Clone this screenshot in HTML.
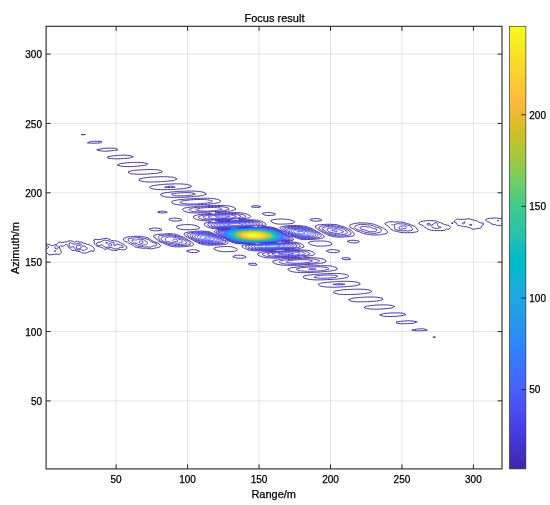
<!DOCTYPE html>
<html><head><meta charset="utf-8"><title>Focus result</title>
<style>html,body{margin:0;padding:0;background:#fff}svg{display:block}</style></head>
<body>
<svg width="550" height="505" viewBox="0 0 550 505">
<rect width="550" height="505" fill="#fff"/>
<path d="M116.13 26.30V468.90M46.10 400.91H502.00M187.59 26.30V468.90M46.10 331.54H502.00M259.04 26.30V468.90M46.10 262.17H502.00M330.50 26.30V468.90M46.10 192.80H502.00M401.96 26.30V468.90M46.10 123.42H502.00M473.42 26.30V468.90M46.10 54.05H502.00" stroke="#262626" stroke-opacity="0.115" stroke-width="1" fill="none"/>
<g fill="none" stroke-width="0.95" stroke-linejoin="round" clip-path="url(#cp)">
<clipPath id="cp"><rect x="46.10" y="26.30" width="455.90" height="442.60"/></clipPath>
<path stroke="#3e26a8" d="M432.8 337.1L433.4 337.2L434.8 337.2L435.5 337.1L434.8 337.1L433.4 337.1ZM411.8 330.2L412.0 330.2L413.4 330.5L414.8 330.6L416.3 330.8L417.7 330.8L419.1 330.8L420.5 330.8L422.0 330.7L423.4 330.6L424.8 330.5L426.3 330.3L427.3 330.2L426.3 329.6L424.8 329.1L423.4 328.8L422.7 328.8L422.0 328.8L420.5 328.8L420.3 328.8L419.1 328.9L417.7 329.0L416.3 329.2L414.8 329.5L413.4 329.8L412.0 330.1ZM396.6 323.2L397.7 323.4L399.1 323.5L400.5 323.6L402.0 323.7L403.4 323.7L404.8 323.7L406.2 323.7L407.7 323.6L409.1 323.6L410.5 323.5L412.0 323.4L413.4 323.2L413.6 323.2L414.8 322.8L416.3 322.2L417.2 321.8L416.3 321.6L414.8 321.3L413.4 321.1L412.0 321.0L410.5 320.9L409.1 320.8L407.7 320.8L406.2 320.9L404.8 321.0L403.4 321.1L402.0 321.2L400.5 321.3L399.1 321.5L397.7 321.7L396.5 321.8ZM383.9 316.3L384.8 316.3L386.2 316.4L387.7 316.5L389.1 316.5L390.5 316.5L392.0 316.5L393.4 316.4L394.8 316.4L396.2 316.3L396.8 316.3L397.7 316.2L399.1 316.0L400.5 315.8L402.0 315.6L403.4 315.3L404.8 315.0L405.6 314.9L404.8 313.6L404.8 313.5L403.4 313.3L402.0 313.1L400.5 313.0L399.1 312.9L397.7 312.9L396.2 312.9L394.8 312.9L393.4 312.9L392.0 312.9L390.5 313.0L389.1 313.1L387.7 313.2L386.2 313.3L384.8 313.4L383.8 313.5L383.4 313.6L382.0 314.1L380.5 314.5L379.5 314.9L380.5 315.3L382.0 315.8L383.4 316.2ZM364.5 308.0L364.8 308.0L366.2 308.4L367.7 308.6L369.1 308.8L370.5 309.0L371.9 309.1L373.4 309.1L374.8 309.2L376.2 309.2L377.7 309.2L379.1 309.1L380.5 309.0L382.0 309.0L383.4 308.9L384.8 308.8L386.2 308.6L387.7 308.5L389.1 308.3L390.5 308.2L392.0 308.0L392.1 308.0L393.4 307.3L394.8 306.6L393.4 306.0L392.0 305.6L390.5 305.2L390.3 305.2L389.1 305.1L387.7 305.0L386.2 304.9L384.8 304.9L383.4 304.9L382.0 304.9L380.5 304.9L379.1 305.0L377.7 305.0L376.2 305.1L374.8 305.2L374.4 305.2L373.4 305.3L371.9 305.5L370.5 305.6L369.1 305.9L367.7 306.1L366.2 306.3L364.9 306.6L364.8 306.9ZM350.7 301.0L351.9 301.2L353.4 301.4L354.8 301.6L356.2 301.7L357.7 301.8L359.1 301.8L360.5 301.8L361.9 301.8L363.4 301.8L364.8 301.8L366.2 301.7L367.7 301.7L369.1 301.6L370.5 301.5L371.9 301.4L373.4 301.3L374.8 301.2L376.2 301.1L376.8 301.0L377.7 300.8L379.1 300.6L380.5 300.2L382.0 299.9L382.9 299.6L382.4 298.2L382.0 298.1L380.5 297.8L379.1 297.5L377.7 297.4L376.2 297.2L374.8 297.1L373.4 297.0L371.9 297.0L370.5 297.0L369.1 297.0L367.7 297.0L366.2 297.1L364.8 297.2L363.4 297.2L361.9 297.3L360.5 297.4L359.1 297.5L357.7 297.7L356.2 297.8L354.8 298.0L353.4 298.1L352.3 298.2L351.9 298.4L350.5 298.9L349.1 299.4L348.5 299.6L349.1 300.0L350.5 300.9ZM338.3 294.1L339.1 294.2L340.5 294.3L341.9 294.4L343.4 294.5L344.8 294.5L346.2 294.5L347.7 294.5L349.1 294.5L350.5 294.5L351.9 294.4L353.4 294.4L354.8 294.3L356.2 294.3L357.7 294.2L359.1 294.1L359.2 294.1L360.5 294.0L361.9 293.8L363.4 293.6L364.8 293.5L366.2 293.3L367.7 293.0L369.1 292.8L369.8 292.7L370.5 292.2L371.8 291.3L370.5 290.6L369.1 290.0L368.9 289.9L367.7 289.7L366.2 289.5L364.8 289.4L363.4 289.3L361.9 289.2L360.5 289.2L359.1 289.2L357.7 289.2L356.2 289.2L354.8 289.2L353.4 289.3L351.9 289.3L350.5 289.4L349.1 289.5L347.7 289.5L346.2 289.6L344.8 289.7L343.4 289.8L342.2 289.9L341.9 290.0L340.5 290.2L339.1 290.4L337.6 290.6L336.2 290.9L334.8 291.2L334.3 291.3L333.5 292.7L334.8 293.2L336.2 293.6L337.6 294.0ZM328.6 287.1L329.1 287.2L330.5 287.2L331.9 287.2L333.4 287.2L334.8 287.2L336.2 287.2L337.6 287.1L337.6 287.1L339.1 287.1L340.5 287.0L341.9 286.9L343.4 286.8L344.8 286.8L346.2 286.6L347.7 286.5L349.1 286.4L350.5 286.3L351.9 286.1L353.4 286.0L354.8 285.8L355.4 285.8L356.2 285.5L357.7 285.2L359.1 284.7L360.1 284.4L359.5 283.0L359.1 282.8L357.7 282.4L356.2 282.0L354.8 281.8L353.6 281.6L353.4 281.6L351.9 281.5L350.5 281.4L349.1 281.3L347.7 281.3L346.2 281.3L344.8 281.3L343.4 281.3L341.9 281.4L340.5 281.4L339.1 281.4L337.6 281.5L336.2 281.6L335.8 281.6L334.8 281.7L333.4 281.8L331.9 281.9L330.5 282.0L329.1 282.1L327.6 282.3L326.2 282.4L324.8 282.6L323.4 282.8L321.9 282.9L321.7 283.0L320.5 283.4L319.1 283.9L318.1 284.4L319.1 285.4L319.5 285.8L320.5 286.0L321.9 286.4L323.4 286.6L324.8 286.8L326.2 287.0L327.6 287.1ZM306.1 278.8L306.2 278.8L307.6 279.1L309.1 279.4L310.5 279.5L311.9 279.7L313.4 279.8L314.8 279.8L316.2 279.9L317.6 279.9L319.1 279.9L320.5 279.9L321.9 279.8L323.4 279.8L324.8 279.7L326.2 279.7L327.6 279.6L329.1 279.5L330.5 279.5L331.9 279.4L333.4 279.3L334.8 279.2L336.2 279.1L337.6 279.0L339.1 278.8L339.4 278.8L340.5 278.7L341.9 278.5L343.4 278.2L344.8 278.0L346.2 277.7L347.5 277.4L347.7 277.3L348.8 276.0L347.7 275.3L346.4 274.7L346.2 274.6L344.8 274.3L343.4 274.0L341.9 273.8L340.5 273.7L339.1 273.6L337.6 273.5L336.2 273.5L334.8 273.5L333.4 273.5L331.9 273.5L330.5 273.5L329.1 273.6L327.6 273.6L326.2 273.7L324.8 273.7L323.4 273.8L321.9 273.9L320.5 274.0L319.1 274.1L317.6 274.2L316.2 274.3L314.8 274.4L313.4 274.5L311.9 274.6L311.5 274.7L310.5 274.8L309.1 275.0L307.6 275.3L306.2 275.5L304.8 275.8L303.9 276.0L303.3 277.0L303.1 277.4L303.3 277.6L304.8 278.3ZM293.3 271.9L293.3 271.9L294.8 272.1L296.2 272.3L297.6 272.4L299.1 272.5L300.5 272.6L301.9 272.6L303.3 272.6L304.8 272.6L306.2 272.6L307.6 272.5L309.1 272.5L310.5 272.5L311.9 272.4L313.4 272.3L314.8 272.3L316.2 272.2L317.6 272.2L319.1 272.1L320.5 272.0L321.3 271.9L321.9 271.8L323.4 271.7L324.8 271.6L326.2 271.4L327.6 271.3L329.1 271.1L330.5 271.0L331.9 270.8L333.4 270.6L334.0 270.5L334.8 270.2L336.2 269.7L337.4 269.1L336.6 267.7L336.2 267.5L334.8 267.0L333.4 266.6L332.5 266.3L331.9 266.2L330.5 266.0L329.1 265.9L327.6 265.8L326.2 265.7L324.8 265.7L323.4 265.6L321.9 265.6L320.5 265.7L319.1 265.7L317.6 265.7L316.2 265.8L314.8 265.8L313.4 265.8L311.9 265.8L310.5 265.8L309.1 265.9L307.6 265.9L306.2 266.0L304.8 266.3L304.6 266.3L303.3 266.4L301.9 266.6L300.5 266.7L299.1 266.8L297.6 267.0L296.2 267.1L294.8 267.3L293.3 267.5L291.9 267.6L291.3 267.7L290.5 268.0L289.1 268.5L287.8 269.1L288.8 270.5L289.1 270.6L290.5 271.1L291.9 271.6ZM249.2 264.9L250.5 265.1L251.9 265.2L253.3 265.3L254.8 265.2L256.2 265.1L257.1 264.9L256.2 263.7L256.0 263.6L254.8 263.4L253.3 263.3L251.9 263.3L250.5 263.4L249.0 263.5L248.7 263.6L249.0 264.6ZM281.1 264.9L281.9 265.0L283.3 265.2L284.8 265.2L286.2 265.3L287.6 265.3L289.1 265.3L290.5 265.3L291.9 265.3L293.3 265.3L294.8 265.3L296.2 265.3L297.6 265.3L299.1 265.2L300.5 265.1L301.1 264.9L301.9 264.9L303.3 264.8L304.8 264.7L306.2 264.6L307.6 264.5L309.1 264.4L310.5 264.3L311.9 264.2L313.4 264.1L314.8 264.0L316.2 263.9L317.6 263.8L319.1 263.6L319.3 263.6L320.5 263.3L321.9 263.1L323.4 262.8L324.8 262.4L325.5 262.2L326.0 260.8L324.8 260.0L323.9 259.4L323.4 259.2L321.9 258.8L320.5 258.5L319.1 258.2L317.6 258.0L317.2 258.0L316.2 257.9L314.8 257.8L313.4 257.8L311.9 257.7L310.5 257.7L309.1 257.6L307.6 257.6L306.2 257.5L304.8 257.5L303.3 257.3L302.8 256.6L303.3 256.6L304.8 256.4L306.2 256.3L307.6 256.1L309.1 255.9L310.5 255.7L311.9 255.5L313.1 255.2L313.4 255.1L314.8 254.1L315.1 253.8L314.8 253.5L313.9 252.5L313.4 252.2L311.9 251.5L310.8 251.1L310.5 251.0L309.1 250.6L307.6 250.4L306.2 250.2L304.8 250.1L303.3 250.0L301.9 250.0L300.5 249.9L299.1 249.9L297.6 250.0L296.2 250.0L294.8 250.0L293.3 250.1L291.9 250.2L290.5 250.2L289.1 250.1L287.6 250.0L286.2 249.9L284.8 249.8L284.3 249.7L284.8 249.7L286.2 249.5L287.6 249.4L289.1 249.3L290.5 249.2L291.9 249.2L293.3 249.2L294.8 249.1L296.2 249.1L297.6 249.0L299.1 248.7L299.9 248.3L300.5 248.2L301.9 247.8L303.3 247.2L304.1 246.9L303.5 245.5L303.3 245.4L301.9 244.4L301.5 244.1L300.5 243.6L299.1 243.1L297.9 242.7L297.6 242.7L296.2 242.4L294.8 242.2L293.3 242.1L291.9 242.0L290.5 241.9L289.1 241.8L287.6 241.7L286.2 241.5L285.3 241.4L286.2 241.3L287.6 241.1L289.1 240.9L290.5 240.7L291.9 240.4L293.3 240.0L293.4 240.0L293.4 238.6L293.3 238.5L291.9 237.4L291.7 237.2L291.9 236.4L293.3 236.6L294.7 237.2L294.8 237.3L296.2 237.9L297.6 238.4L298.3 238.6L299.1 238.9L300.5 239.2L301.9 239.4L303.3 239.5L304.8 239.6L306.2 239.6L307.6 239.5L309.1 239.5L310.5 239.5L311.9 239.4L313.4 239.3L314.8 239.2L316.2 239.1L317.6 239.0L319.1 238.8L320.4 238.6L320.5 238.6L321.9 238.2L323.4 237.7L324.2 237.2L324.0 235.8L323.4 235.4L322.2 234.4L321.9 234.3L320.5 233.4L320.1 233.0L319.1 232.5L317.6 231.7L317.6 231.6L316.2 231.0L314.9 230.3L314.8 230.2L313.4 229.3L312.3 228.9L311.9 228.7L310.5 228.0L309.1 227.5L309.0 227.5L307.6 226.9L306.2 226.5L304.8 226.3L303.6 226.1L303.3 226.1L301.9 225.9L300.5 225.8L299.1 225.7L297.6 225.6L296.2 225.6L294.8 225.6L293.3 225.6L291.9 225.6L290.5 225.6L289.1 225.7L287.6 225.8L286.2 226.0L285.7 226.1L284.8 226.2L283.3 226.4L281.9 226.7L280.5 227.1L279.8 227.5L280.5 228.6L280.6 228.9L281.9 229.8L282.4 230.3L281.9 230.8L280.5 230.5L279.9 230.3L279.1 229.6L277.6 229.1L276.9 228.9L276.2 228.5L274.8 227.9L273.3 227.6L272.4 227.5L271.9 227.3L270.5 227.0L269.0 226.9L267.6 226.7L266.2 226.6L264.8 226.5L263.3 226.4L261.9 226.2L261.3 226.1L261.9 226.0L263.3 225.7L264.8 225.3L266.2 224.8L266.4 224.7L266.2 224.5L265.4 223.3L264.8 222.9L263.3 222.2L262.8 221.9L261.9 221.5L260.5 221.0L259.0 220.7L258.4 220.5L257.6 220.3L256.2 220.1L254.8 220.0L253.3 219.9L251.9 219.8L250.5 219.8L249.0 219.8L247.6 219.8L246.2 219.7L244.8 219.7L243.3 219.6L241.9 219.5L240.5 219.4L239.0 219.2L238.8 219.2L239.0 219.1L240.5 219.0L241.9 218.8L243.3 218.7L244.8 218.5L246.2 218.3L247.6 218.1L249.0 217.9L249.5 217.8L250.5 216.8L250.8 216.4L250.5 216.1L249.1 215.0L249.0 215.0L247.6 214.4L246.2 213.9L245.1 213.6L244.8 213.5L243.3 213.2L241.9 213.0L240.5 212.8L239.0 212.7L237.6 212.7L236.2 212.6L234.7 212.6L233.3 212.6L231.9 212.6L230.5 212.7L229.0 212.7L227.6 212.8L226.2 212.8L224.7 212.8L223.3 212.8L221.9 212.8L220.5 212.7L219.0 212.7L217.6 212.6L216.2 212.5L215.1 212.2L216.2 212.1L217.6 212.0L219.0 211.9L220.5 211.8L221.9 211.7L223.3 211.6L224.7 211.5L226.2 211.4L227.6 211.3L229.0 211.2L230.5 211.0L231.1 210.8L231.9 210.6L233.3 210.2L234.7 209.8L235.7 209.4L235.1 208.1L234.7 207.9L233.3 207.2L231.9 206.7L231.9 206.7L230.5 206.3L229.0 206.0L227.6 205.8L226.2 205.7L224.7 205.6L223.3 205.5L221.9 205.5L220.5 205.5L219.0 205.5L217.6 205.5L216.2 205.5L214.7 205.5L213.3 205.6L211.9 205.6L210.5 205.7L209.0 205.7L207.6 205.8L206.2 205.9L204.7 206.0L203.3 206.0L201.9 206.1L200.4 206.1L199.0 206.1L197.6 206.2L196.2 206.3L194.7 206.6L194.4 206.7L193.3 206.8L191.9 207.0L190.4 207.1L189.0 207.3L187.6 207.5L186.2 207.7L184.7 208.0L184.4 208.1L183.3 208.7L182.3 209.4L183.3 210.6L183.5 210.8L184.7 211.4L186.2 211.9L187.5 212.2L187.6 212.2L189.0 212.5L190.4 212.7L191.9 212.8L193.3 212.9L194.7 212.9L196.2 212.9L197.6 212.9L199.0 212.9L200.4 212.9L201.9 212.8L203.3 212.9L204.7 212.9L206.2 213.0L207.6 213.0L209.0 213.1L210.5 213.3L211.6 213.6L210.5 213.7L209.0 213.8L207.6 213.9L206.2 214.0L204.7 214.2L203.3 214.3L201.9 214.5L200.4 214.5L199.0 214.7L197.6 214.9L197.4 215.0L196.2 215.3L194.7 215.8L193.3 216.4L193.7 217.8L194.7 218.4L196.1 219.2L196.2 219.2L197.6 219.7L199.0 220.0L200.4 220.3L201.9 220.5L202.5 220.5L203.3 220.6L204.7 220.8L206.2 220.9L207.6 221.0L209.0 221.1L210.5 221.4L211.5 221.9L210.5 222.1L209.0 222.3L207.6 222.6L206.2 222.9L204.7 223.3L204.5 223.3L204.1 224.7L204.7 225.2L205.8 226.1L206.2 226.3L207.6 227.0L208.7 227.5L209.0 227.6L210.5 228.0L211.9 228.3L213.3 228.5L214.7 228.6L216.2 228.6L217.6 228.6L219.0 228.6L220.5 228.6L221.9 228.5L223.3 228.5L224.7 228.6L226.2 228.7L227.6 228.9L226.2 229.0L224.7 229.1L223.3 229.2L221.9 229.3L220.5 229.3L219.0 229.3L217.6 229.5L216.2 229.9L215.6 230.3L214.7 230.9L214.3 231.6L214.7 232.0L215.6 233.0L216.2 233.5L217.6 234.4L217.6 234.4L217.6 234.6L216.2 234.8L215.3 234.4L214.7 233.8L213.3 233.4L212.3 233.0L211.9 232.8L210.5 232.2L209.0 231.8L207.8 231.6L207.6 231.6L206.2 231.3L204.7 231.2L203.3 231.1L201.9 231.1L200.4 231.1L199.0 231.2L197.6 231.2L196.2 231.2L194.7 231.3L193.3 231.5L192.6 231.6L191.9 231.7L190.4 231.8L189.0 232.0L187.6 232.2L186.2 232.6L184.8 233.0L184.7 233.1L184.1 234.4L184.7 235.2L185.1 235.8L186.2 236.5L187.1 237.2L187.6 237.5L189.0 238.1L189.9 238.6L190.4 238.9L191.9 239.6L192.6 240.0L193.3 240.4L194.7 241.2L195.0 241.4L196.2 242.0L197.6 242.7L197.8 242.7L199.0 243.4L200.4 243.9L201.5 244.1L201.9 244.3L203.3 244.6L204.7 244.8L206.2 244.9L207.6 245.1L209.0 245.1L210.5 245.2L211.9 245.1L213.3 245.1L214.7 245.1L216.2 245.1L217.6 245.0L219.0 244.9L220.5 244.8L221.9 244.7L223.3 244.6L224.7 244.4L226.1 244.1L226.2 244.1L227.6 243.5L228.2 242.7L227.6 242.2L227.0 241.4L226.2 240.9L225.0 240.0L226.2 239.5L227.2 240.0L227.6 240.6L229.0 241.0L230.1 241.4L230.5 241.7L231.9 242.2L233.3 242.6L233.8 242.7L234.7 243.1L236.2 243.4L237.6 243.6L239.0 243.7L240.5 243.8L241.9 243.8L243.3 243.8L244.8 243.8L246.2 243.8L247.6 243.9L249.0 244.0L250.5 244.1L250.8 244.1L250.5 244.2L249.0 244.4L247.6 244.6L246.2 244.8L244.8 245.0L243.3 245.2L242.0 245.5L242.1 246.9L243.3 247.7L244.3 248.3L244.8 248.5L246.2 249.2L247.6 249.6L247.8 249.7L249.0 250.1L250.5 250.4L251.9 250.6L253.3 250.7L254.8 250.8L256.2 250.8L257.6 250.9L259.0 250.9L260.5 250.8L261.9 250.8L263.3 250.8L264.8 250.7L266.2 250.7L267.6 250.6L269.0 250.7L270.5 250.7L271.9 250.8L273.3 250.9L274.8 251.0L274.9 251.1L274.8 251.1L273.3 251.2L271.9 251.3L270.5 251.5L269.0 251.6L267.6 251.7L266.2 251.7L264.8 251.8L263.3 251.9L261.9 252.0L260.6 252.5L260.5 252.5L259.0 253.0L257.6 253.6L257.2 253.8L257.6 254.3L258.3 255.2L259.0 255.6L260.5 256.3L261.4 256.6L261.9 256.8L263.3 257.2L264.8 257.5L266.2 257.7L267.6 257.8L269.0 257.9L270.5 258.0L271.0 258.0L271.9 258.0L273.3 258.1L274.8 258.1L276.2 258.1L277.6 258.0L277.7 258.0L279.1 258.0L280.5 257.9L281.9 257.9L283.3 257.8L284.8 257.8L286.2 257.7L287.6 257.6L289.1 257.5L290.5 257.5L291.9 257.4L293.3 257.5L294.8 257.5L296.2 257.5L297.6 257.5L299.1 257.6L300.5 257.6L301.9 257.9L302.1 258.0L301.9 258.0L300.5 258.1L299.1 258.2L297.6 258.2L296.2 258.3L294.8 258.4L293.3 258.5L291.9 258.6L290.5 258.7L289.1 258.7L287.6 258.7L286.2 258.7L284.8 258.7L283.3 258.8L281.9 259.0L281.2 259.4L280.5 259.5L279.1 259.7L277.6 259.9L276.2 260.2L274.8 260.5L273.4 260.8L273.3 261.0L272.7 262.2L273.3 262.6L274.8 263.4L275.0 263.6L276.2 264.0L277.6 264.3L279.1 264.6L280.5 264.9ZM342.9 259.4L343.4 259.5L344.8 259.6L346.2 259.7L347.7 259.7L349.1 259.6L350.5 259.4L350.6 259.4L350.5 259.2L349.6 258.0L349.1 257.9L347.7 257.8L346.2 257.7L344.8 257.8L343.4 257.8L341.9 258.0L341.9 258.0L341.9 258.0ZM236.5 258.0L237.6 258.1L239.0 258.2L240.5 258.3L241.9 258.2L243.3 258.1L244.7 258.0L244.8 258.0L246.0 256.6L244.8 256.1L243.3 255.7L241.9 255.4L240.8 255.2L240.5 255.2L239.0 255.2L237.6 255.2L237.3 255.2L236.2 255.4L234.7 255.8L233.3 256.3L232.7 256.6L233.3 256.9L234.7 257.5L236.2 257.9ZM46.1 252.7L47.5 253.4L47.7 253.8L49.0 254.9L50.4 254.8L51.8 254.6L53.2 254.4L54.7 254.2L56.1 254.1L57.5 254.4L59.0 254.4L59.9 253.8L60.4 253.5L61.2 252.5L61.1 251.1L60.4 249.7L60.4 249.7L59.8 248.3L59.3 246.9L60.4 245.8L61.8 246.1L63.2 246.2L64.5 245.5L64.7 245.3L66.1 244.2L67.5 245.0L67.8 245.5L68.1 246.9L69.0 247.7L70.1 248.3L70.4 248.6L71.3 249.7L71.8 250.1L73.3 250.5L74.7 250.5L76.1 250.9L76.9 251.1L77.5 251.4L79.0 251.3L80.4 251.7L81.3 252.5L81.8 252.7L83.3 253.0L84.7 253.1L86.1 253.0L87.5 252.5L87.5 252.5L89.0 251.6L90.4 251.1L90.4 251.0L91.8 250.8L92.5 251.1L93.3 251.3L94.2 251.1L94.2 249.7L94.2 248.3L93.3 247.3L92.9 246.9L91.8 246.2L90.6 245.5L90.4 245.4L89.0 244.7L87.5 244.4L86.9 244.1L86.1 243.8L84.7 243.7L83.3 243.2L83.0 242.7L81.8 242.2L80.4 242.1L79.0 242.0L77.6 241.4L77.5 241.3L76.1 241.3L75.9 241.4L74.7 242.3L73.3 241.8L72.7 241.4L71.8 241.0L70.4 240.8L69.0 241.0L67.5 241.3L67.4 241.4L66.1 241.9L64.7 242.0L63.2 242.3L61.8 242.4L60.4 242.2L59.0 242.1L58.0 242.7L57.5 243.5L57.1 244.1L56.1 244.4L54.7 244.8L53.2 245.5L52.8 245.5L51.8 245.6L51.7 245.5L50.4 245.1L49.0 244.5L47.5 244.1L47.5 244.1L46.1 244.0M191.4 252.5L191.9 252.5L193.3 252.5L194.7 252.5L196.2 252.5L196.2 252.5L197.6 252.1L199.0 251.3L199.4 251.1L199.0 250.9L197.6 250.4L196.2 249.9L194.7 249.7L193.5 249.7L193.3 249.7L191.9 249.7L191.8 249.7L190.4 249.8L189.0 250.1L187.6 250.5L186.5 251.1L187.6 251.5L189.0 252.0L190.4 252.3ZM330.2 252.5L330.5 252.5L331.9 252.6L333.4 252.7L334.8 252.7L336.2 252.6L337.6 252.5L338.0 252.5L339.1 251.8L339.8 251.1L339.1 250.8L337.6 250.3L336.2 250.0L334.8 249.8L334.0 249.7L333.4 249.7L331.9 249.6L330.5 249.7L330.5 249.7L329.1 249.9L327.6 250.3L326.3 251.1L327.6 251.6L329.1 252.1ZM218.9 251.1L219.0 251.1L220.5 251.3L221.9 251.5L223.3 251.6L224.7 251.7L226.2 251.7L227.6 251.7L229.0 251.7L230.5 251.6L231.9 251.5L233.3 251.4L234.7 251.2L235.4 251.1L236.2 250.7L237.5 249.7L236.2 248.5L236.0 248.3L234.7 247.8L233.3 247.3L232.0 246.9L231.9 246.9L230.5 246.7L229.0 246.6L227.6 246.5L226.2 246.5L224.7 246.6L223.3 246.6L221.9 246.7L220.5 246.8L219.0 246.9L218.9 246.9L217.6 247.1L216.2 247.5L214.7 247.9L213.8 248.3L214.7 249.7L214.8 249.7L216.2 250.2L217.6 250.7ZM110.7 249.7L111.8 250.2L113.3 250.3L114.7 250.4L116.1 250.4L117.6 250.0L118.3 249.7L119.0 249.5L120.4 249.4L121.4 249.7L121.8 249.8L123.3 249.8L124.1 249.7L124.7 249.6L126.1 249.0L126.8 248.3L126.8 246.9L126.1 246.8L125.1 245.5L124.7 245.2L123.4 244.1L123.3 244.1L121.8 243.5L120.6 242.7L120.4 242.6L119.0 242.1L117.9 241.4L117.6 241.3L116.1 241.0L114.7 240.8L113.3 240.7L111.8 240.5L110.4 240.0L110.4 239.9L109.0 239.1L107.7 238.6L107.6 238.5L106.1 238.3L104.7 238.4L104.0 238.6L103.3 238.7L101.8 239.1L100.4 239.4L99.0 239.6L97.5 239.6L96.1 239.3L94.7 239.5L93.7 240.0L94.5 241.4L94.1 242.7L94.6 244.1L94.7 244.3L95.9 245.5L96.1 245.6L97.5 246.3L99.0 246.7L99.7 246.9L100.4 247.2L101.8 247.6L103.3 248.2L103.5 248.3L104.7 249.3L106.1 249.0L107.6 248.6L109.0 248.8L110.4 249.5ZM142.9 248.3L143.3 248.4L144.7 248.3L145.6 248.3L146.1 248.3L146.4 248.3L147.6 248.4L149.0 248.7L150.4 248.9L151.9 248.8L153.3 248.5L154.1 248.3L154.7 248.1L156.1 247.9L157.6 247.5L159.0 247.1L159.7 246.9L160.4 246.3L160.7 245.5L160.4 245.3L159.3 244.1L159.0 243.9L157.6 243.0L157.1 242.7L156.1 242.3L154.7 241.8L153.5 241.4L153.3 241.3L151.9 240.6L151.0 240.0L150.4 239.5L149.2 238.6L149.0 238.4L147.6 237.7L146.1 237.3L145.6 237.2L144.7 237.0L143.3 236.9L141.9 236.6L140.4 236.4L139.0 236.3L137.6 236.3L136.1 236.2L134.7 236.3L133.3 236.5L131.8 236.7L130.4 236.7L129.0 236.7L127.6 237.0L127.0 237.2L126.1 237.5L124.7 238.1L123.6 238.6L123.3 240.0L124.7 241.2L124.9 241.4L126.1 241.9L127.6 242.2L128.3 242.7L129.0 243.3L130.2 244.1L130.4 244.2L131.8 244.7L133.3 245.5L133.3 245.5L134.7 246.9L134.8 246.9L136.1 247.1L137.6 247.4L139.0 247.8L140.4 247.9L141.9 248.1ZM168.8 245.5L169.0 245.6L170.4 246.1L171.9 246.3L173.3 246.5L174.7 246.7L176.2 246.8L177.6 246.8L179.0 246.9L180.4 246.8L181.9 246.7L183.3 246.7L184.7 246.6L186.2 246.4L187.6 246.3L189.0 246.2L190.4 246.0L191.9 245.8L192.8 245.5L193.3 245.0L193.7 244.1L193.3 243.7L192.5 242.7L191.9 242.4L190.6 241.4L190.4 241.2L189.0 240.5L188.1 240.0L187.6 239.6L186.2 238.7L186.0 238.6L184.7 237.7L183.6 237.2L183.3 237.1L181.9 236.6L180.4 236.1L179.8 235.8L179.0 235.4L177.6 234.9L176.2 234.5L175.5 234.4L174.7 234.2L173.3 234.0L171.9 233.8L170.4 233.7L169.0 233.7L167.6 233.7L166.1 233.8L164.7 234.0L163.3 234.1L161.9 234.1L160.4 234.2L159.0 234.4L159.0 234.4L157.6 234.6L156.1 234.8L154.7 235.2L153.6 235.8L153.9 237.2L154.7 237.5L156.1 238.4L156.3 238.6L157.1 240.0L157.6 240.3L158.9 241.4L159.0 241.5L160.4 242.1L161.9 242.6L162.4 242.7L163.3 243.3L164.7 243.9L165.2 244.1L166.1 244.6L167.6 245.1ZM313.8 245.5L314.8 245.7L316.2 245.9L317.6 246.1L319.1 246.1L320.5 246.1L321.9 246.1L323.4 246.1L324.8 246.0L326.2 245.9L327.6 245.7L329.1 245.5L329.1 245.5L330.5 245.0L331.9 244.3L332.2 244.1L331.9 243.8L331.2 242.7L330.5 242.5L329.1 242.0L327.6 241.5L326.8 241.4L326.2 241.3L324.8 241.1L323.4 241.1L321.9 241.0L320.5 241.0L319.1 241.0L317.6 241.0L316.2 241.1L314.8 241.1L313.4 241.2L312.0 241.4L311.9 241.4L310.5 241.7L309.1 242.3L308.2 242.7L309.1 243.4L309.8 244.1L310.5 244.4L311.9 245.0L313.4 245.4ZM264.8 242.8L264.7 242.7L264.8 242.7L266.2 242.7L267.6 242.6L269.0 242.6L270.5 242.7L271.9 242.7L270.5 242.8L269.0 242.9L267.6 243.0L266.2 242.9ZM350.9 242.7L351.9 242.8L353.4 242.9L354.8 242.9L356.2 242.8L357.5 242.7L357.7 242.7L359.1 241.8L359.5 241.4L359.1 241.2L357.7 240.8L356.2 240.5L354.8 240.4L353.4 240.3L351.9 240.3L350.5 240.4L349.1 240.7L347.7 241.1L347.0 241.4L347.7 241.6L349.1 242.2L350.5 242.6ZM223.3 239.0L222.8 238.6L223.3 238.2L224.6 238.6ZM220.5 237.3L220.3 237.2L220.5 237.0L221.9 237.0L222.2 237.2L221.9 237.6ZM219.0 236.4L218.0 235.8L219.0 235.2L219.9 235.8ZM290.5 236.4L289.7 235.8L290.5 235.3L291.8 235.8ZM330.6 235.8L331.9 236.2L333.4 236.6L334.8 236.8L336.2 237.0L337.6 237.1L339.1 237.1L340.5 237.1L341.9 237.1L343.4 237.0L344.8 236.9L346.2 236.8L347.7 236.7L349.1 236.6L350.5 236.4L351.9 236.2L353.4 235.9L353.6 235.8L354.6 234.4L353.6 233.0L353.4 232.9L352.4 231.6L351.9 231.2L351.1 230.3L350.5 229.8L349.1 229.0L348.7 228.9L347.7 228.5L346.2 227.9L345.4 227.5L344.8 227.1L343.4 226.6L341.9 226.2L341.2 226.1L340.5 225.9L339.1 225.4L337.6 225.0L336.2 224.7L336.1 224.7L334.8 224.6L333.4 224.5L331.9 224.4L330.5 224.3L329.1 224.3L327.6 224.3L326.2 224.3L324.8 224.4L323.4 224.5L321.9 224.6L320.8 224.7L320.5 224.7L319.1 224.8L317.6 225.1L316.2 225.5L315.3 226.1L315.5 227.5L316.2 228.0L317.2 228.9L317.6 229.1L319.1 230.1L319.2 230.3L320.5 231.1L321.5 231.6L321.9 231.9L323.4 232.7L324.0 233.0L324.8 233.5L326.2 234.2L326.7 234.4L327.6 234.9L329.1 235.5L330.5 235.8ZM287.6 234.6L287.4 234.4L287.6 234.1L289.1 234.3L289.2 234.4L289.1 234.7ZM368.4 234.4L369.1 234.6L370.5 234.8L371.9 234.9L373.4 235.0L374.8 235.0L376.2 234.9L377.7 234.9L379.1 234.9L380.5 234.7L381.5 234.4L382.0 234.3L383.4 234.1L384.8 234.1L386.2 233.7L387.2 233.0L387.4 231.6L386.7 230.3L386.2 230.0L384.8 229.0L384.6 228.9L383.4 228.1L382.0 227.6L381.6 227.5L380.5 226.9L379.1 226.2L378.8 226.1L377.7 225.7L376.2 225.1L375.2 224.7L374.8 224.5L373.4 224.1L371.9 223.8L370.5 223.5L369.3 223.3L369.1 223.3L367.7 223.2L366.2 223.1L364.8 223.0L363.4 223.0L361.9 222.9L360.5 222.9L359.1 222.9L357.7 223.1L356.2 223.3L355.9 223.3L354.8 223.5L353.4 223.8L351.9 224.2L350.5 224.6L350.4 224.7L349.7 226.1L350.4 227.5L350.5 227.6L351.9 228.3L353.1 228.9L353.4 229.0L354.8 229.8L355.5 230.3L356.2 230.7L357.7 231.3L358.8 231.6L359.1 231.8L360.5 232.3L361.9 232.9L362.3 233.0L363.4 233.5L364.8 233.9L366.2 234.1L367.7 234.3ZM286.2 233.5L285.1 233.0L286.2 232.6L286.9 233.0ZM283.3 232.1L282.5 231.6L283.3 230.9L284.6 231.6ZM397.8 231.6L399.1 232.0L400.5 232.4L402.0 232.6L403.4 232.6L404.8 232.7L406.2 232.7L407.7 232.7L409.1 232.7L410.5 232.7L412.0 232.6L413.4 232.3L414.8 232.2L416.3 231.9L417.6 231.6L417.7 231.5L418.1 230.3L417.7 229.9L417.0 228.9L416.3 227.9L416.0 227.5L414.8 226.3L414.3 226.1L413.4 225.8L412.0 225.3L410.7 224.7L410.5 224.6L409.1 224.0L407.7 223.8L406.2 223.4L406.1 223.3L404.8 222.6L403.4 222.3L402.0 222.2L400.5 222.1L399.1 222.0L397.7 221.9L396.2 222.0L394.8 222.0L394.2 221.9L393.4 221.8L392.0 221.7L390.5 221.7L389.1 221.9L388.7 221.9L387.7 222.2L386.2 222.8L384.9 223.3L385.5 224.7L386.2 225.0L387.7 225.8L387.9 226.1L389.1 227.1L389.6 227.5L390.5 228.6L390.7 228.9L392.0 229.7L392.8 230.3L393.4 230.6L394.8 230.9L396.2 231.3L397.7 231.6ZM150.5 230.3L151.9 230.5L153.3 230.7L154.7 230.8L156.1 230.8L157.6 230.8L159.0 230.6L160.4 230.4L161.6 230.3L161.0 228.9L160.4 228.7L159.0 228.4L157.6 228.2L156.1 228.1L154.7 228.1L153.3 228.1L151.9 228.3L150.4 228.5L149.2 228.9L150.4 230.2ZM431.5 230.3L432.0 230.3L433.4 230.5L434.8 230.6L436.3 230.6L437.7 230.6L439.1 230.6L440.5 230.6L442.0 230.5L443.4 230.5L444.8 230.3L444.9 230.3L446.0 228.9L446.3 228.8L446.6 228.9L447.7 229.2L449.1 229.1L449.3 228.9L450.5 227.5L449.7 226.1L449.1 225.5L447.7 225.2L446.3 224.9L445.4 224.7L444.8 224.6L443.4 224.1L442.1 223.3L442.0 223.2L440.5 222.6L439.1 222.2L438.3 221.9L437.7 221.7L436.3 221.1L434.8 220.8L433.4 220.6L432.0 220.6L430.5 220.6L429.2 220.5L429.1 220.5L427.7 220.5L427.5 220.5L426.3 220.7L424.8 221.0L423.4 221.1L422.0 221.3L420.5 221.8L420.3 221.9L419.1 222.7L418.5 223.3L419.1 224.0L420.5 224.5L420.9 224.7L422.0 225.1L423.4 226.0L423.5 226.1L424.8 227.2L425.3 227.5L426.3 227.9L427.4 228.9L427.7 229.0L429.1 229.6L430.5 230.1ZM179.2 228.9L180.4 229.2L181.9 229.4L183.3 229.6L184.7 229.7L186.2 229.7L187.6 229.7L189.0 229.7L190.4 229.7L191.9 229.6L193.3 229.5L194.7 229.4L196.2 229.2L197.6 229.0L198.8 228.9L199.0 228.6L199.6 227.5L199.0 227.1L197.6 226.2L197.3 226.1L196.2 225.7L194.7 225.3L193.3 225.0L191.9 224.8L191.1 224.7L190.4 224.7L189.0 224.6L187.6 224.6L186.2 224.6L184.7 224.7L184.1 224.7L183.3 224.8L181.9 224.9L180.4 225.2L179.0 225.4L177.6 225.8L176.7 226.1L176.6 227.5L177.6 228.1L179.0 228.8ZM471.7 228.9L472.0 229.0L473.4 229.3L474.8 229.0L475.3 228.9L476.3 228.5L477.7 228.4L479.1 228.4L480.6 228.1L481.1 227.5L481.5 226.1L482.0 225.4L483.4 224.7L483.5 224.7L483.5 223.3L483.4 223.3L482.0 222.9L480.6 222.9L479.1 222.3L478.7 221.9L477.7 221.4L476.3 220.7L475.7 220.5L474.8 220.3L473.4 220.0L472.0 219.8L470.6 219.2L470.6 219.1L469.1 218.8L467.7 218.8L466.3 219.1L465.9 219.2L464.8 219.3L463.4 219.4L462.0 219.4L460.6 219.4L459.1 219.2L458.8 219.2L457.7 219.0L456.9 219.2L456.3 219.3L455.1 220.5L454.8 221.2L453.8 221.9L454.8 222.3L456.3 222.9L456.9 223.3L457.2 224.7L457.7 225.3L459.1 225.7L460.6 225.7L461.7 226.1L462.0 226.2L463.4 226.6L464.8 226.7L466.3 226.7L467.7 227.2L468.8 227.5L469.1 227.6L470.6 228.1ZM243.3 227.5L242.6 227.5L243.3 227.4L244.8 227.3L246.2 227.2L247.6 227.3L249.0 227.4L250.1 227.5L249.0 227.5L247.6 227.6L246.2 227.7L244.8 227.6ZM274.3 223.3L274.8 223.5L276.2 223.8L277.6 224.0L279.1 224.1L280.5 224.1L281.9 224.1L283.3 224.1L284.8 224.1L286.2 224.0L287.6 223.9L289.1 223.8L290.5 223.6L291.9 223.4L292.8 223.3L293.3 223.0L294.7 221.9L293.3 221.1L292.5 220.5L291.9 220.4L290.5 220.0L289.1 219.7L287.6 219.4L286.2 219.3L285.0 219.2L284.8 219.1L283.3 219.1L281.9 219.0L280.5 219.0L279.1 219.1L277.6 219.1L277.3 219.2L276.2 219.3L274.8 219.4L273.3 219.7L271.9 220.1L270.8 220.5L271.5 221.9L271.9 222.2L273.3 222.9ZM451.4 223.3L452.0 223.5L453.1 223.3L452.0 222.6ZM170.3 220.5L170.4 220.6L171.9 220.8L173.3 220.9L174.7 221.0L176.2 221.0L177.6 221.0L179.0 220.9L180.4 220.7L181.4 220.5L181.3 219.2L180.4 218.9L179.0 218.6L177.6 218.3L176.2 218.2L174.7 218.1L173.3 218.2L171.9 218.3L170.4 218.6L169.0 219.0L168.7 219.2L169.0 219.5ZM216.2 220.6L215.4 220.5L216.2 220.5L217.6 220.4L219.0 220.4L220.5 220.3L221.9 220.2L223.3 220.1L224.7 220.1L226.2 220.2L227.6 220.3L229.0 220.4L230.4 220.5L229.0 220.6L227.6 220.7L226.2 220.8L224.7 220.9L223.3 220.9L221.9 220.9L220.5 220.9L219.0 220.8L217.6 220.7ZM310.8 220.5L311.9 220.8L313.4 221.0L314.8 221.0L316.2 221.1L317.6 221.1L319.1 221.0L320.5 220.8L321.8 220.5L320.7 219.2L320.5 219.1L319.1 218.9L317.6 218.7L316.2 218.6L314.8 218.6L313.4 218.7L311.9 218.8L310.5 219.1L310.1 219.2L310.5 220.0ZM502.0 218.4L500.6 218.5L499.1 218.5L497.7 218.2L496.3 218.0L494.9 218.0L493.4 218.1L492.0 218.3L490.6 218.2L489.1 218.3L487.7 218.9L486.3 219.0L486.0 219.2L485.9 220.5L486.3 221.0L487.7 221.9L487.7 221.9L489.1 222.0L490.6 223.1L490.8 223.3L492.0 224.1L493.4 224.5L494.9 224.6L495.3 224.7L496.3 225.1L497.7 225.5L499.1 225.3L500.6 225.4L502.0 226.1M264.1 215.0L264.8 215.1L266.2 215.3L267.6 215.4L269.0 215.5L270.5 215.4L271.9 215.4L273.3 215.2L274.8 215.0L275.0 215.0L275.1 213.6L274.8 213.5L273.3 213.2L271.9 212.9L270.5 212.7L269.0 212.6L267.6 212.6L266.2 212.6L264.8 212.8L263.3 213.1L262.2 213.6L263.3 214.4ZM157.6 212.2L159.0 212.6L160.4 212.8L161.9 213.0L163.3 213.0L164.7 212.9L166.1 212.6L167.3 212.2L166.1 211.8L164.7 211.5L163.3 211.2L161.9 211.2L160.4 211.3L159.0 211.6ZM251.3 206.7L251.9 206.9L253.3 207.2L254.8 207.3L256.2 207.4L257.6 207.4L259.0 207.2L260.5 206.8L261.0 206.7L260.5 206.5L259.0 206.1L257.6 205.8L256.2 205.7L254.8 205.7L253.3 205.8L251.9 206.3ZM173.9 203.9L174.7 204.1L176.2 204.4L177.6 204.7L179.0 204.8L180.4 205.0L181.9 205.1L183.3 205.1L184.7 205.1L186.2 205.2L187.6 205.1L189.0 205.1L190.4 205.1L191.9 205.0L193.3 205.0L194.7 204.9L196.2 204.8L197.6 204.8L199.0 204.7L200.4 204.6L201.9 204.5L203.3 204.4L204.7 204.4L206.2 204.4L207.6 204.3L209.0 204.2L210.5 204.0L210.8 203.9L211.9 203.8L213.3 203.6L214.7 203.4L216.2 203.1L217.6 202.9L219.0 202.6L219.7 202.5L220.5 201.7L220.9 201.1L220.5 200.8L219.0 200.0L218.6 199.7L217.6 199.4L216.2 199.1L214.7 198.8L213.3 198.6L211.9 198.5L210.5 198.4L209.6 198.3L209.0 198.3L207.6 198.3L206.2 198.2L204.7 198.2L203.3 198.2L201.9 198.3L200.4 198.3L199.5 198.3L199.0 198.4L197.6 198.4L196.2 198.5L194.7 198.5L193.3 198.6L191.9 198.7L190.4 198.8L189.0 198.9L187.6 199.0L186.2 199.1L184.7 199.2L183.3 199.3L181.9 199.5L180.4 199.6L179.0 199.7L179.0 199.7L177.6 200.0L176.2 200.2L174.7 200.5L173.3 200.8L172.3 201.1L171.9 201.8L171.5 202.5L171.9 202.7L173.3 203.6ZM166.1 197.0L166.1 197.0L167.6 197.1L169.0 197.2L170.4 197.3L171.9 197.4L173.3 197.4L174.7 197.4L176.2 197.4L177.6 197.4L179.0 197.3L180.4 197.3L181.9 197.3L183.3 197.2L184.7 197.2L186.2 197.1L187.6 197.0L188.1 197.0L189.0 196.9L190.4 196.8L191.9 196.7L193.3 196.5L194.7 196.4L196.2 196.3L197.6 196.1L199.0 196.0L200.4 195.8L201.9 195.6L202.4 195.6L203.3 195.3L204.7 194.8L206.2 194.2L206.2 194.2L206.2 194.1L205.1 192.8L204.7 192.7L203.3 192.2L201.9 191.9L200.4 191.6L199.2 191.4L199.0 191.4L197.6 191.3L196.2 191.2L194.7 191.1L193.3 191.1L191.9 191.1L190.4 191.0L189.0 191.1L187.6 191.1L186.2 191.1L184.7 191.2L183.3 191.2L181.9 191.3L180.4 191.3L179.5 191.4L179.0 191.4L177.6 191.5L176.2 191.6L174.7 191.8L173.3 191.9L171.9 192.0L170.4 192.1L169.0 192.3L167.6 192.5L166.1 192.6L164.9 192.8L164.7 192.8L163.3 193.2L161.9 193.7L160.6 194.2L161.2 195.6L161.9 195.8L163.3 196.3L164.7 196.7ZM151.7 188.6L151.9 188.7L153.3 189.0L154.7 189.2L156.1 189.4L157.6 189.5L159.0 189.6L160.4 189.6L161.9 189.7L163.3 189.7L164.7 189.7L166.1 189.6L167.6 189.6L169.0 189.5L170.4 189.5L171.9 189.4L173.3 189.3L174.7 189.3L176.2 189.2L177.6 189.1L179.0 189.0L180.4 188.9L181.9 188.8L183.3 188.6L183.4 188.6L184.7 188.4L186.2 188.2L187.6 187.9L189.0 187.6L190.4 187.3L190.8 187.2L191.3 185.9L190.4 185.5L189.0 185.0L187.6 184.6L187.1 184.5L186.2 184.3L184.7 184.2L183.3 184.1L181.9 184.0L180.4 183.9L179.0 183.9L177.6 183.9L176.2 183.9L174.7 183.9L173.3 183.9L171.9 184.0L170.4 184.0L169.0 184.1L167.6 184.1L166.1 184.2L164.7 184.3L163.3 184.4L162.3 184.5L161.9 184.5L160.4 184.7L159.0 184.8L157.6 185.0L156.1 185.2L154.7 185.4L153.3 185.6L151.9 185.8L151.8 185.9L150.4 186.6L149.5 187.2L150.4 187.9ZM144.4 181.7L144.7 181.7L146.1 181.8L147.6 181.9L149.0 182.0L150.4 182.0L151.9 182.0L153.3 182.0L154.7 181.9L156.1 181.9L157.6 181.9L159.0 181.8L160.4 181.7L161.4 181.7L161.9 181.7L163.3 181.5L164.7 181.4L166.1 181.3L167.6 181.1L169.0 181.0L170.4 180.8L171.9 180.7L173.3 180.5L174.4 180.3L174.7 180.1L176.2 179.4L177.1 178.9L176.2 178.3L174.7 177.6L174.5 177.5L173.3 177.3L171.9 177.1L170.4 177.0L169.0 176.9L167.6 176.8L166.1 176.7L164.7 176.7L163.3 176.7L161.9 176.7L160.4 176.7L159.0 176.8L157.6 176.8L156.1 176.9L154.7 177.0L153.3 177.1L151.9 177.1L150.4 177.2L149.0 177.3L147.6 177.5L146.8 177.5L146.1 177.6L144.7 177.9L143.3 178.1L141.9 178.4L140.4 178.7L139.6 178.9L139.0 180.3L139.0 180.3L139.0 180.3L140.4 180.8L141.9 181.2L143.3 181.5ZM129.5 173.4L130.4 173.6L131.8 173.8L133.3 173.9L134.7 174.1L136.1 174.2L137.6 174.2L139.0 174.2L140.4 174.2L141.9 174.2L143.3 174.2L144.7 174.1L146.1 174.1L147.6 174.0L149.0 173.9L150.4 173.8L151.9 173.7L153.3 173.6L154.7 173.5L156.1 173.4L156.4 173.4L157.6 173.1L159.0 172.8L160.4 172.5L161.9 172.1L162.2 172.0L161.9 171.3L161.3 170.6L160.4 170.4L159.0 170.1L157.6 169.9L156.1 169.8L154.7 169.7L153.3 169.6L151.9 169.6L150.4 169.5L149.0 169.5L147.6 169.6L146.1 169.6L144.7 169.7L143.3 169.7L141.9 169.8L140.4 169.9L139.0 170.0L137.6 170.1L136.1 170.2L134.7 170.4L133.3 170.5L132.7 170.6L131.8 170.8L130.4 171.2L129.0 171.7L128.0 172.0L129.0 173.0ZM122.9 166.4L123.3 166.5L124.7 166.5L126.1 166.6L127.6 166.6L129.0 166.6L130.4 166.6L131.8 166.5L133.3 166.5L134.7 166.4L134.7 166.4L136.1 166.3L137.6 166.2L139.0 166.0L140.4 165.9L141.9 165.7L143.3 165.5L144.7 165.3L146.1 165.1L146.5 165.0L147.6 163.8L147.7 163.7L147.6 163.6L146.1 163.3L144.7 163.0L143.3 162.7L141.9 162.6L140.4 162.5L139.0 162.4L137.6 162.4L136.1 162.4L134.7 162.4L133.3 162.4L131.8 162.5L130.4 162.6L129.0 162.7L127.6 162.8L126.1 162.9L124.7 163.0L123.3 163.2L121.8 163.4L120.4 163.6L119.7 163.7L119.0 164.1L117.6 164.9L117.3 165.0L117.6 165.2L119.0 165.6L120.4 166.0L121.8 166.3ZM107.7 158.1L109.0 158.3L110.4 158.5L111.8 158.6L113.3 158.7L114.7 158.8L116.1 158.8L117.6 158.8L119.0 158.8L120.4 158.7L121.8 158.6L123.3 158.6L124.7 158.5L126.1 158.4L127.6 158.3L129.0 158.1L129.1 158.1L130.4 157.7L131.8 157.2L133.3 156.7L133.3 156.7L133.3 156.7L131.8 156.2L130.4 155.8L129.0 155.5L127.6 155.3L127.6 155.3L126.1 155.3L124.7 155.2L123.3 155.2L121.8 155.2L120.4 155.3L119.0 155.3L118.6 155.3L117.6 155.4L116.1 155.5L114.7 155.7L113.3 155.9L111.8 156.0L110.4 156.3L109.0 156.5L107.7 156.7ZM104.4 151.2L104.7 151.2L105.0 151.2L106.1 151.2L107.6 151.1L109.0 151.0L110.4 150.9L111.8 150.7L113.3 150.5L114.7 150.3L116.1 150.1L117.6 149.9L118.0 149.8L117.6 149.4L116.1 148.6L115.5 148.4L114.7 148.3L113.3 148.3L111.8 148.2L110.4 148.2L109.0 148.2L107.6 148.2L106.1 148.3L104.7 148.3L103.7 148.4L103.3 148.5L101.8 148.7L100.4 149.0L99.0 149.3L97.5 149.6L96.7 149.8L97.5 150.1L99.0 150.6L100.4 150.9L101.8 151.0L103.3 151.1ZM87.5 142.8L87.5 142.9L89.0 143.0L90.4 143.1L91.8 143.2L93.3 143.2L94.7 143.2L96.1 143.1L97.5 143.1L99.0 143.0L100.4 142.9L100.9 142.8L101.8 141.5L100.4 141.4L99.0 141.3L97.5 141.3L96.1 141.3L94.7 141.3L93.3 141.3L91.8 141.4L90.9 141.5L90.4 141.7L89.0 142.2L87.5 142.8ZM81.1 134.5L81.8 134.6L83.3 134.7L84.7 134.6L85.5 134.5L84.7 134.5L83.3 134.5L81.8 134.5Z"/>
<path stroke="#412dbd" d="M332.9 284.4L333.4 284.5L334.8 284.6L336.2 284.8L337.6 284.8L339.1 284.8L340.5 284.8L341.9 284.7L343.4 284.6L344.8 284.4L345.0 284.4L344.8 284.3L343.4 284.0L341.9 283.8L340.5 283.7L339.1 283.7L337.6 283.8L336.2 283.9L334.8 284.1L333.4 284.3ZM314.2 277.4L314.8 277.5L316.2 277.8L317.6 278.0L319.1 278.1L320.5 278.2L321.9 278.2L323.4 278.2L324.8 278.2L326.2 278.2L327.6 278.1L329.1 278.0L330.5 277.9L331.9 277.8L333.4 277.7L334.8 277.5L335.5 277.4L336.2 277.0L337.6 276.2L337.9 276.0L337.6 276.0L336.2 275.7L334.8 275.4L333.4 275.2L331.9 275.1L330.5 275.0L329.1 275.0L327.6 275.0L326.2 275.1L324.8 275.1L323.4 275.2L321.9 275.3L320.5 275.4L319.1 275.6L317.6 275.7L316.2 275.9L315.3 276.0L314.8 276.7ZM298.0 270.5L299.1 270.7L300.5 270.9L301.9 271.0L303.3 271.2L304.8 271.2L306.2 271.3L307.6 271.3L309.1 271.3L310.5 271.3L311.9 271.3L313.4 271.2L314.8 271.1L316.2 271.1L317.6 271.0L319.1 270.9L320.5 270.8L321.9 270.6L323.4 270.5L323.4 270.5L324.8 270.2L326.2 269.8L327.6 269.4L328.8 269.1L327.7 267.7L327.6 267.7L326.2 267.4L324.8 267.2L323.4 267.1L321.9 267.0L320.5 266.9L319.1 266.8L317.6 266.8L316.2 266.8L314.8 266.9L313.4 266.9L311.9 267.0L310.5 267.0L309.1 267.1L307.6 267.2L306.2 267.3L304.8 267.4L303.3 267.5L301.9 267.7L301.3 267.7L300.5 267.9L299.1 268.3L297.6 268.7L296.3 269.1L297.6 270.2ZM282.8 263.6L283.3 263.7L284.8 263.9L286.2 264.0L287.6 264.1L289.1 264.2L290.5 264.3L291.9 264.3L293.3 264.3L294.8 264.3L296.2 264.3L297.6 264.2L299.1 264.2L300.5 264.1L301.9 264.1L303.3 264.0L304.8 263.9L306.2 263.8L307.6 263.7L309.1 263.6L309.7 263.6L310.5 263.5L311.9 263.3L313.4 263.1L314.8 262.8L316.2 262.6L317.6 262.3L318.2 262.2L319.1 261.2L319.5 260.8L319.1 260.6L317.6 259.9L316.2 259.4L316.2 259.4L314.8 259.2L313.4 259.0L311.9 258.9L310.5 258.8L309.1 258.8L307.6 258.7L306.2 258.7L304.8 258.7L303.3 258.7L301.9 258.8L300.5 258.8L299.1 258.9L297.6 258.9L296.2 259.0L294.8 259.1L293.3 259.2L291.9 259.3L290.5 259.4L289.9 259.4L289.1 259.5L287.6 259.7L286.2 259.9L284.8 260.1L283.3 260.3L281.9 260.5L280.6 260.8L280.5 260.9L279.2 262.2L280.5 262.7L281.9 263.3ZM267.9 256.6L269.0 256.8L270.5 257.0L271.9 257.1L273.3 257.2L274.8 257.2L276.2 257.3L277.6 257.3L279.1 257.3L280.5 257.3L281.9 257.2L283.3 257.2L284.8 257.1L286.2 257.1L287.6 257.0L289.1 257.0L290.5 256.9L291.9 256.8L293.3 256.7L294.7 256.6L294.8 256.6L296.2 256.5L297.6 256.4L299.1 256.2L300.5 256.1L301.9 255.9L303.3 255.7L304.8 255.5L306.2 255.3L306.7 255.2L307.6 254.9L309.1 254.3L309.9 253.8L309.1 252.6L309.0 252.5L307.6 252.0L306.2 251.5L304.8 251.2L304.1 251.1L303.3 251.0L301.9 250.8L300.5 250.7L299.1 250.7L297.6 250.6L296.2 250.6L294.8 250.6L293.3 250.6L291.9 250.7L290.5 250.7L289.1 250.7L287.6 250.7L286.2 250.7L284.8 250.7L283.3 250.8L281.9 251.1L281.9 251.1L280.5 251.2L279.1 251.3L277.6 251.4L276.2 251.5L274.8 251.6L273.3 251.8L271.9 251.9L270.5 252.0L269.0 252.2L267.6 252.3L266.6 252.5L266.2 252.6L264.8 253.0L263.3 253.5L262.4 253.8L263.2 255.2L263.3 255.3L264.8 255.8L266.2 256.2L267.6 256.6ZM54.2 251.1L54.7 251.4L55.7 251.1L54.7 250.4ZM76.0 249.7L76.1 249.7L77.5 250.1L79.0 249.9L79.8 249.7L80.4 249.5L81.4 249.7L81.8 249.8L83.3 250.5L84.7 250.2L85.4 249.7L86.1 249.4L87.5 248.4L87.6 248.3L87.5 248.2L86.1 247.1L85.7 246.9L84.7 246.1L83.3 246.3L82.2 245.5L81.8 245.2L80.9 244.1L80.4 243.8L79.0 243.8L77.5 243.6L76.1 243.8L74.9 244.1L74.7 244.2L73.9 244.1L73.3 244.1L71.8 243.5L70.6 242.7L70.4 242.7L69.8 242.7L69.0 244.1L69.5 245.5L69.9 246.9L70.4 247.2L71.8 247.1L72.3 246.9L73.3 246.3L73.9 246.9L74.3 248.3L74.7 248.7ZM253.0 249.7L253.3 249.7L254.8 249.9L256.2 250.1L257.6 250.2L259.0 250.2L260.5 250.3L261.9 250.3L263.3 250.3L264.8 250.2L266.2 250.2L267.6 250.2L269.0 250.2L270.5 250.2L271.9 250.2L273.3 250.2L274.8 250.1L276.2 250.1L277.6 249.9L278.2 249.7L279.1 249.6L280.5 249.5L281.9 249.4L283.3 249.3L284.8 249.2L286.2 249.1L287.6 249.0L289.1 248.9L290.5 248.7L291.9 248.6L293.3 248.5L294.5 248.3L294.8 248.2L296.2 247.9L297.6 247.6L299.1 247.2L299.9 246.9L300.2 245.5L299.1 244.7L298.2 244.1L297.6 243.9L296.2 243.5L294.8 243.1L293.3 242.9L292.3 242.7L291.9 242.7L290.5 242.6L289.1 242.5L287.6 242.4L286.2 242.3L284.8 242.2L283.3 242.0L281.9 241.5L281.7 241.4L281.9 241.3L283.3 241.2L284.8 241.0L286.2 240.8L287.6 240.6L289.1 240.3L290.4 240.0L290.5 239.9L291.6 238.6L290.5 237.2L290.5 237.2L289.1 236.1L288.7 235.8L287.6 235.2L286.5 234.4L286.2 234.2L284.8 233.4L284.1 233.0L283.3 232.6L281.9 231.8L281.6 231.6L280.5 231.0L279.1 230.4L278.7 230.3L277.6 229.7L276.2 229.2L275.1 228.9L274.8 228.7L273.3 228.3L271.9 227.9L270.5 227.7L269.0 227.6L267.6 227.5L267.5 227.5L266.2 227.3L264.8 227.2L263.3 227.2L261.9 227.1L260.5 227.0L259.0 226.9L257.6 226.6L256.9 226.1L257.6 226.0L259.0 225.7L260.5 225.3L261.9 224.9L262.7 224.7L262.2 223.3L261.9 223.2L260.5 222.5L259.2 221.9L259.0 221.9L257.6 221.5L256.2 221.2L254.8 220.9L253.3 220.8L251.9 220.6L250.7 220.5L250.5 220.5L249.0 220.5L247.6 220.4L246.2 220.4L244.8 220.4L243.3 220.4L241.9 220.4L240.5 220.4L239.0 220.5L238.5 220.5L237.6 220.6L236.2 220.6L234.7 220.7L233.3 220.8L231.9 220.8L230.5 220.9L229.0 221.0L227.6 221.1L226.2 221.2L224.7 221.3L223.3 221.4L221.9 221.4L220.5 221.5L219.0 221.6L217.6 221.8L217.0 221.9L216.2 222.0L214.7 222.2L213.3 222.5L211.9 222.7L210.5 223.0L209.1 223.3L209.0 223.3L207.6 224.7L209.0 226.1L209.0 226.1L210.5 226.7L211.9 227.2L212.9 227.5L213.3 227.6L214.7 227.8L216.2 227.9L217.6 228.0L219.0 228.1L220.5 228.1L221.9 228.1L223.3 228.1L224.7 228.2L226.2 228.3L227.6 228.4L229.0 228.5L230.5 228.7L230.9 228.9L230.5 228.9L229.0 229.0L227.6 229.1L226.2 229.3L224.7 229.4L223.3 229.6L221.9 229.7L220.5 229.9L219.0 230.2L219.0 230.3L217.6 230.8L216.3 231.6L217.0 233.0L217.6 233.5L218.7 234.4L219.0 234.6L220.5 235.6L220.8 235.8L221.9 236.5L223.0 237.2L223.3 237.4L224.7 238.1L225.6 238.6L226.2 238.9L227.6 239.7L228.3 240.0L229.0 240.4L230.5 241.0L231.6 241.4L231.9 241.5L233.3 242.0L234.7 242.4L236.2 242.7L236.9 242.7L237.6 242.9L239.0 243.1L240.5 243.3L241.9 243.3L243.3 243.4L244.8 243.4L246.2 243.4L247.6 243.5L249.0 243.6L250.5 243.6L251.9 243.7L253.3 243.9L254.8 244.1L254.8 244.1L254.8 244.1L253.3 244.3L251.9 244.5L250.5 244.7L249.0 245.0L247.6 245.2L246.2 245.5L246.0 245.5L245.4 246.9L246.2 247.4L247.6 248.3L247.6 248.3L249.0 248.8L250.5 249.2L251.9 249.5ZM46.1 249.3L47.5 248.4L47.7 248.3L48.8 246.9L47.5 245.9L46.8 245.5L46.1 245.3M54.9 248.3L56.1 249.0L57.5 248.8L58.2 248.3L58.0 246.9L57.5 246.1L56.2 245.5L56.1 245.5L56.1 245.5L54.8 246.9ZM113.3 248.3L114.7 249.0L116.1 249.0L117.6 248.6L118.5 248.3L119.0 247.9L120.4 247.5L121.8 247.3L123.3 247.2L123.5 246.9L123.3 246.4L122.2 245.5L121.8 245.4L120.4 245.0L119.0 244.7L117.6 244.1L117.6 244.1L117.4 244.1L116.1 244.5L115.0 245.5L114.7 245.9L113.9 245.5L113.8 244.1L114.2 242.7L113.3 242.3L111.8 242.2L110.4 241.9L109.7 241.4L109.0 241.0L107.6 240.5L106.1 240.3L104.7 240.1L103.3 240.5L101.8 241.3L101.8 241.4L100.4 242.0L99.0 242.3L97.5 242.5L97.1 242.7L96.2 244.1L97.5 245.2L98.6 245.5L99.0 245.6L99.5 245.5L100.4 245.2L101.8 244.8L103.2 245.5L103.3 245.6L104.3 246.9L104.7 247.1L106.1 247.3L107.6 247.3L109.0 247.2L110.4 247.5L111.8 247.7L113.3 248.3ZM144.3 246.9L144.7 247.0L146.1 247.0L147.6 246.9L149.0 247.1L150.4 247.2L151.2 246.9L151.9 246.4L153.3 245.8L154.7 246.0L156.1 245.7L156.5 245.5L156.8 244.1L156.1 243.7L154.7 243.0L154.0 242.7L153.3 242.5L151.9 242.2L150.7 241.4L150.4 241.2L149.1 240.0L149.0 239.9L147.6 239.3L146.1 238.8L144.9 238.6L144.7 238.6L143.3 238.4L141.9 238.1L140.4 237.8L139.0 237.6L137.6 237.6L136.1 237.7L134.7 237.8L133.3 238.0L131.8 238.2L130.4 238.3L129.0 238.4L128.5 238.6L128.0 240.0L129.0 240.8L129.4 241.4L130.4 242.3L131.1 242.7L131.8 243.2L133.3 243.8L134.4 244.1L134.7 244.3L136.1 245.1L136.7 245.5L137.6 245.9L139.0 246.3L140.4 246.4L141.9 246.5L143.3 246.8ZM175.0 245.5L176.2 245.7L177.6 245.7L179.0 245.7L180.4 245.6L181.0 245.5L181.9 245.4L183.3 245.4L184.7 245.4L186.2 245.2L187.6 245.0L189.0 244.7L190.4 244.1L190.2 242.7L189.0 241.7L188.7 241.4L187.6 240.8L186.2 240.0L186.1 240.0L184.7 239.0L183.9 238.6L183.3 238.3L181.9 237.8L180.4 237.3L180.3 237.2L179.0 236.7L177.6 236.0L176.8 235.8L176.2 235.6L174.7 235.3L173.3 235.1L171.9 234.9L170.4 234.7L169.0 234.7L167.6 234.8L166.1 235.0L164.7 235.1L163.3 235.3L161.9 235.4L160.4 235.5L159.3 235.8L159.0 236.2L158.5 237.2L158.9 238.6L159.0 238.8L159.3 240.0L160.4 241.1L160.8 241.4L161.9 241.7L163.3 242.2L164.7 242.7L164.8 242.7L166.1 243.4L167.6 243.9L168.1 244.1L169.0 244.5L170.4 244.8L171.9 245.0L173.3 245.1L174.7 245.5ZM208.1 244.1L209.0 244.2L210.5 244.3L211.9 244.3L213.3 244.3L214.7 244.3L216.2 244.3L217.6 244.2L218.4 244.1L219.0 244.1L220.5 243.9L221.9 243.7L223.3 243.5L224.7 243.0L225.3 242.7L225.3 241.4L224.7 241.0L223.7 240.0L223.3 239.7L221.9 238.7L221.7 238.6L220.5 237.9L219.3 237.2L219.0 237.0L217.6 236.2L216.8 235.8L216.2 235.4L214.7 234.8L213.9 234.4L213.3 234.1L211.9 233.6L210.5 233.1L210.1 233.0L209.0 232.7L207.6 232.4L206.2 232.2L204.7 232.1L203.3 232.0L201.9 231.9L200.4 232.0L199.0 232.0L197.6 232.1L196.2 232.2L194.7 232.3L193.3 232.5L191.9 232.6L190.4 232.8L189.3 233.0L189.0 233.1L187.6 233.9L187.0 234.4L187.6 235.6L187.7 235.8L189.0 237.0L189.2 237.2L190.4 237.8L191.8 238.6L191.9 238.6L193.3 239.5L194.2 240.0L194.7 240.2L196.2 241.0L196.8 241.4L197.6 241.8L199.0 242.4L200.2 242.7L200.4 242.8L201.9 243.3L203.3 243.5L204.7 243.7L206.2 243.9L207.6 244.1ZM261.9 242.9L261.1 242.7L261.9 242.7L263.3 242.6L264.8 242.6L266.2 242.5L267.6 242.4L269.0 242.4L270.5 242.4L271.9 242.5L273.3 242.5L274.8 242.6L276.2 242.7L276.6 242.7L276.2 242.8L274.8 242.8L273.3 242.9L271.9 243.0L270.5 243.1L269.0 243.2L267.6 243.2L266.2 243.2L264.8 243.1L263.3 243.0ZM303.1 238.6L303.3 238.6L304.8 238.7L306.2 238.8L307.6 238.8L309.1 238.7L310.5 238.7L311.9 238.6L312.3 238.6L313.4 238.5L314.8 238.4L316.2 238.1L317.6 237.9L319.1 237.5L320.1 237.2L320.5 236.7L321.1 235.8L320.5 235.1L320.0 234.4L319.1 233.7L318.2 233.0L317.6 232.7L316.2 232.0L315.7 231.6L314.8 231.2L313.4 230.3L313.3 230.3L311.9 229.6L310.5 229.0L310.0 228.9L309.1 228.5L307.6 228.0L306.2 227.6L305.4 227.5L304.8 227.3L303.3 227.0L301.9 226.8L300.5 226.7L299.1 226.6L297.6 226.5L296.2 226.4L294.8 226.4L293.3 226.4L291.9 226.5L290.5 226.5L289.1 226.6L287.6 226.8L286.2 226.9L284.8 227.2L283.6 227.5L283.3 227.7L282.5 228.9L283.3 229.7L283.8 230.3L284.8 230.9L285.7 231.6L286.2 231.9L287.6 232.9L287.9 233.0L289.1 233.7L290.3 234.4L290.5 234.6L291.9 235.3L293.1 235.8L293.3 235.9L294.8 236.6L296.2 237.1L296.5 237.2L297.6 237.6L299.1 238.0L300.5 238.3L301.9 238.5ZM336.8 235.8L337.6 235.9L339.1 236.1L340.5 236.1L341.9 235.9L342.9 235.8L343.4 235.7L344.8 235.6L346.2 235.5L347.7 235.3L349.1 234.9L350.5 234.6L350.8 234.4L351.1 233.0L350.5 231.9L350.3 231.6L349.1 230.9L348.0 230.3L347.7 230.1L346.2 229.4L345.4 228.9L344.8 228.5L343.4 227.8L342.5 227.5L341.9 227.3L340.5 227.1L339.1 226.7L337.6 226.3L336.4 226.1L336.2 226.1L334.8 225.9L333.4 225.7L331.9 225.6L330.5 225.6L329.1 225.5L327.6 225.5L326.2 225.6L324.8 225.7L323.4 225.8L321.9 226.1L321.7 226.1L320.5 226.4L319.1 227.2L318.8 227.5L319.1 228.0L319.4 228.9L320.5 229.7L321.2 230.3L321.9 230.6L323.4 231.5L323.6 231.6L324.8 232.3L326.2 233.0L326.3 233.0L327.6 233.7L329.1 234.2L330.0 234.4L330.5 234.6L331.9 235.0L333.4 235.3L334.8 235.6L336.2 235.7ZM369.9 233.0L370.5 233.1L371.9 233.3L373.4 233.4L374.8 233.4L376.2 233.2L376.8 233.0L377.7 232.8L379.1 232.5L380.5 232.0L381.0 231.6L381.4 230.3L380.8 228.9L380.5 228.7L379.1 227.9L377.7 227.5L377.7 227.5L376.2 227.1L374.8 226.7L373.7 226.1L373.4 225.9L371.9 225.4L370.5 225.0L369.1 224.9L367.7 224.9L366.2 224.7L366.2 224.7L364.8 224.5L363.4 224.5L361.9 224.4L360.5 224.4L359.1 224.6L358.5 224.7L357.7 225.0L356.2 225.5L355.0 226.1L354.8 226.5L354.4 227.5L354.8 227.8L355.8 228.9L356.2 229.2L357.7 229.9L359.1 230.1L359.6 230.3L360.5 230.5L361.9 231.1L363.4 231.6L363.5 231.6L364.8 232.2L366.2 232.5L367.7 232.7L369.1 232.9ZM398.9 230.3L399.1 230.3L400.5 230.7L402.0 230.9L403.4 230.8L404.8 230.8L406.2 230.8L407.7 230.9L409.1 230.9L410.5 230.7L412.0 230.3L412.1 230.3L412.6 228.9L412.0 228.3L411.4 227.5L410.6 226.1L410.5 226.0L409.1 225.4L407.7 225.3L406.2 224.8L406.0 224.7L404.8 224.1L403.4 223.8L402.0 223.9L400.5 223.9L399.1 223.8L397.7 223.7L396.2 223.9L394.8 224.4L393.8 224.7L394.3 226.1L394.7 227.5L394.6 228.9L394.8 229.0L396.2 229.7L397.7 230.0ZM239.0 227.5L238.8 227.5L239.0 227.5L240.5 227.4L241.9 227.3L243.3 227.1L244.8 227.0L246.2 226.9L247.6 227.0L249.0 227.0L250.5 227.0L251.9 227.1L253.3 227.2L254.8 227.4L255.2 227.5L254.8 227.5L253.3 227.5L251.9 227.6L250.5 227.7L249.0 227.7L247.6 227.8L246.2 227.9L244.8 227.8L243.3 227.8L241.9 227.7L240.5 227.6ZM432.6 227.5L433.4 227.9L434.8 228.2L436.3 228.4L437.7 228.6L439.1 227.9L440.5 227.7L441.1 227.5L440.5 226.8L439.1 227.0L437.9 226.1L437.7 225.7L437.5 224.7L437.5 223.3L436.3 222.7L434.8 222.9L434.1 223.3L433.4 224.1L432.1 224.7L432.0 225.0L431.7 226.1L432.0 226.6ZM391.7 224.7L392.0 224.9L392.4 224.7L392.0 224.4ZM427.1 224.7L427.7 224.9L429.1 225.1L430.5 224.8L431.1 224.7L430.5 224.4L429.1 223.4L427.7 223.3L427.7 223.3L427.7 223.3ZM469.4 224.7L470.6 225.3L472.0 224.7L470.6 224.4ZM462.3 223.3L463.4 223.9L464.5 223.3L464.8 222.3L465.0 221.9L464.8 221.9L464.5 221.9L463.4 222.4ZM502.0 222.7L501.5 223.3L502.0 223.9M497.2 220.5L497.7 220.9L498.7 220.5L497.7 220.4ZM201.7 219.2L201.9 219.2L203.3 219.5L204.7 219.7L206.2 219.8L207.6 219.9L209.0 220.0L210.5 220.0L211.9 220.0L213.3 220.0L214.7 220.0L216.2 220.0L217.6 219.9L219.0 219.9L220.5 219.8L221.9 219.8L223.3 219.7L224.7 219.6L226.2 219.6L227.6 219.6L229.0 219.6L230.5 219.5L231.9 219.3L232.4 219.2L233.3 219.1L234.7 218.9L236.2 218.8L237.6 218.6L239.0 218.4L240.5 218.2L241.9 218.0L243.3 217.8L243.7 217.8L244.8 217.1L245.9 216.4L244.8 215.5L243.9 215.0L243.3 214.8L241.9 214.4L240.5 214.1L239.0 213.9L237.6 213.7L236.2 213.6L236.2 213.6L234.7 213.5L233.3 213.5L231.9 213.4L230.5 213.4L229.0 213.4L227.6 213.4L226.2 213.4L224.7 213.5L223.3 213.5L221.9 213.6L221.5 213.6L220.5 213.7L219.0 213.7L217.6 213.8L216.2 213.9L214.7 214.0L213.3 214.1L211.9 214.2L210.5 214.3L209.0 214.5L207.6 214.6L206.2 214.8L204.7 214.9L204.2 215.0L203.3 215.2L201.9 215.5L200.4 215.9L199.0 216.3L198.8 216.4L198.5 217.8L199.0 218.0L200.4 218.7ZM190.3 210.8L190.4 210.9L191.9 211.2L193.3 211.5L194.7 211.6L196.2 211.8L197.6 211.9L199.0 212.0L200.4 212.0L201.9 212.0L203.3 212.0L204.7 212.0L206.2 211.9L207.6 211.9L209.0 211.8L210.5 211.8L211.9 211.7L213.3 211.6L214.7 211.5L216.2 211.4L217.6 211.3L219.0 211.2L220.5 211.1L221.9 210.9L223.0 210.8L223.3 210.8L224.7 210.5L226.2 210.1L227.6 209.8L228.9 209.4L228.5 208.1L227.6 207.8L226.2 207.4L224.7 207.1L223.3 206.9L221.9 206.7L221.9 206.7L220.5 206.6L219.0 206.5L217.6 206.5L216.2 206.4L214.7 206.4L213.3 206.4L211.9 206.5L210.5 206.5L209.0 206.5L207.6 206.6L206.2 206.7L205.9 206.7L204.7 206.8L203.3 206.9L201.9 207.0L200.4 207.1L199.0 207.2L197.6 207.4L196.2 207.5L194.7 207.7L193.3 207.9L192.3 208.1L191.9 208.2L190.4 208.8L189.0 209.4L188.9 209.4L189.0 209.5ZM186.4 203.9L187.6 204.0L189.0 204.0L190.4 204.0L191.9 204.0L193.3 204.0L194.7 204.0L196.2 203.9L197.2 203.9L197.6 203.9L199.0 203.8L200.4 203.7L201.9 203.5L203.3 203.4L204.7 203.2L206.2 203.1L207.6 202.9L209.0 202.7L210.5 202.5L210.5 202.5L211.9 201.6L212.5 201.1L211.9 200.9L210.5 200.4L209.0 200.1L207.6 199.8L207.2 199.7L206.2 199.7L204.7 199.6L203.3 199.5L201.9 199.5L200.4 199.5L199.0 199.5L197.6 199.5L196.2 199.5L194.7 199.6L193.3 199.7L191.9 199.7L191.9 199.7L190.4 199.9L189.0 200.0L187.6 200.2L186.2 200.4L184.7 200.6L183.3 200.8L181.9 201.0L181.4 201.1L180.4 202.0L179.9 202.5L180.4 202.7L181.9 203.1L183.3 203.4L184.7 203.7L186.2 203.9ZM173.5 195.6L174.7 195.7L176.2 195.8L177.6 195.8L179.0 195.9L180.4 195.9L181.9 195.9L183.3 195.8L184.7 195.8L186.2 195.7L187.6 195.7L188.9 195.6L189.0 195.5L190.4 195.3L191.9 195.0L193.3 194.7L194.7 194.4L195.4 194.2L194.7 193.8L193.3 193.3L191.9 192.9L191.6 192.8L190.4 192.7L189.0 192.7L187.6 192.6L186.2 192.6L184.7 192.6L183.3 192.7L181.9 192.7L180.4 192.8L179.8 192.8L179.0 192.9L177.6 193.1L176.2 193.3L174.7 193.5L173.3 193.8L171.9 194.1L171.5 194.2L171.9 194.5L173.3 195.5ZM164.6 187.2L164.7 187.3L166.1 187.4L167.6 187.5L169.0 187.5L170.4 187.5L171.9 187.4L173.3 187.4L174.7 187.3L175.2 187.2L174.7 186.9L173.3 186.3L171.9 186.2L170.4 186.2L169.0 186.4L167.6 186.6L166.1 186.9L164.7 187.2Z"/>
<path stroke="#4435d0" d="M308.8 269.1L309.1 269.1L310.5 269.2L311.9 269.3L313.4 269.3L314.8 269.2L316.1 269.1L314.8 269.0L313.4 268.9L311.9 268.9L310.5 269.0L309.1 269.1ZM286.3 262.2L287.6 262.5L289.1 262.8L290.5 263.0L291.9 263.1L293.3 263.2L294.8 263.3L296.2 263.3L297.6 263.3L299.1 263.2L300.5 263.2L301.9 263.1L303.3 263.0L304.8 262.9L306.2 262.7L307.6 262.6L309.1 262.4L310.5 262.2L310.6 262.2L311.9 261.2L312.5 260.8L311.9 260.6L310.5 260.3L309.1 260.1L307.6 259.9L306.2 259.8L304.8 259.7L303.3 259.7L301.9 259.7L300.5 259.7L299.1 259.7L297.6 259.8L296.2 259.9L294.8 260.0L293.3 260.2L291.9 260.3L290.5 260.5L289.1 260.6L287.9 260.8L287.6 261.0ZM268.1 255.2L269.0 255.5L270.5 255.8L271.9 256.0L273.3 256.2L274.8 256.4L276.2 256.5L277.6 256.5L279.1 256.6L280.5 256.6L281.9 256.6L283.3 256.6L284.8 256.5L286.2 256.5L287.6 256.4L289.1 256.3L290.5 256.2L291.9 256.1L293.3 256.0L294.8 255.9L296.2 255.8L297.6 255.6L299.1 255.5L300.5 255.3L300.9 255.2L301.9 254.9L303.3 254.5L304.8 254.0L305.1 253.8L304.8 253.3L304.1 252.5L303.3 252.3L301.9 252.0L300.5 251.7L299.1 251.5L297.6 251.4L296.2 251.3L294.8 251.3L293.3 251.2L291.9 251.2L290.5 251.3L289.1 251.3L287.6 251.3L286.2 251.4L284.8 251.5L283.3 251.5L281.9 251.6L280.5 251.7L279.1 251.8L277.6 251.9L276.2 252.1L274.8 252.2L273.3 252.3L272.1 252.5L271.9 252.5L270.5 252.9L269.0 253.2L267.6 253.7L267.0 253.8L267.6 254.6ZM260.8 249.7L261.9 249.7L263.3 249.7L264.8 249.8L266.2 249.8L267.6 249.7L269.0 249.7L269.7 249.7L270.5 249.7L271.9 249.6L273.3 249.5L274.8 249.5L276.2 249.4L277.6 249.3L279.1 249.2L280.5 249.1L281.9 249.0L283.3 248.9L284.8 248.8L286.2 248.7L287.6 248.5L289.1 248.4L290.0 248.3L290.5 248.2L291.9 248.0L293.3 247.7L294.8 247.3L296.2 246.9L296.3 246.9L297.2 245.5L296.2 244.9L295.0 244.1L294.8 244.1L293.3 243.7L291.9 243.4L290.5 243.2L289.1 243.1L287.6 243.0L286.2 242.9L284.8 242.9L283.3 242.9L281.9 242.9L280.5 242.9L279.1 243.0L277.6 243.0L276.2 243.1L274.8 243.1L273.3 243.2L271.9 243.3L270.5 243.4L269.0 243.4L267.6 243.5L266.2 243.5L264.8 243.5L263.3 243.5L261.9 243.5L260.5 243.6L259.0 243.7L258.4 244.1L257.6 244.2L256.2 244.4L254.8 244.6L253.3 244.8L251.9 245.1L250.5 245.3L249.4 245.5L249.0 245.9L248.3 246.9L249.0 247.3L250.5 248.1L250.9 248.3L251.9 248.6L253.3 248.9L254.8 249.1L256.2 249.3L257.6 249.5L259.0 249.6L260.5 249.7ZM76.3 248.3L77.5 248.9L79.0 248.9L80.4 248.4L80.6 248.3L81.3 246.9L80.4 245.6L80.3 245.5L79.0 245.2L77.5 245.2L76.5 245.5L76.4 246.9ZM46.1 247.4L46.3 246.9L46.1 246.7M108.9 245.5L109.0 245.6L110.4 246.1L111.8 245.5L111.7 244.1L110.4 243.6L109.0 243.8L108.4 244.1ZM137.9 244.1L139.0 244.7L140.4 245.0L141.9 245.1L143.3 245.0L144.7 244.9L146.1 244.7L146.7 244.1L147.6 243.2L148.0 242.7L147.6 242.3L146.1 241.6L145.8 241.4L144.7 240.4L143.8 240.0L143.3 239.8L141.9 239.5L140.4 239.2L139.0 239.1L137.6 239.4L136.5 240.0L136.1 240.1L134.7 240.0L134.4 240.0L133.3 239.8L132.0 240.0L132.3 241.4L133.3 242.3L133.7 242.7L134.7 243.0L136.1 243.2L137.6 243.8ZM174.2 244.1L174.7 244.3L176.2 244.6L177.6 244.6L179.0 244.6L180.4 244.4L181.9 244.3L183.3 244.2L184.1 244.1L184.7 244.0L186.2 243.4L187.2 242.7L186.2 241.8L185.9 241.4L184.7 240.5L184.0 240.0L183.3 239.6L181.9 239.0L180.5 238.6L180.4 238.6L179.0 238.0L177.9 237.2L177.6 237.1L176.2 236.6L174.7 236.3L173.3 236.2L171.9 235.9L171.5 235.8L170.4 235.7L169.0 235.7L168.1 235.8L167.6 235.9L166.1 236.1L164.7 236.5L163.3 236.9L162.1 237.2L161.9 237.3L161.1 238.6L161.4 240.0L161.9 240.3L163.3 241.1L163.6 241.4L164.7 241.7L166.1 242.3L167.3 242.7L167.6 242.8L169.0 243.2L170.4 243.5L171.9 243.7L173.3 243.8ZM105.5 242.7L106.1 243.1L107.6 243.0L107.7 242.7L107.6 242.6L106.1 242.5ZM203.9 242.7L204.7 242.9L206.2 243.1L207.6 243.3L209.0 243.5L210.5 243.6L211.9 243.6L213.3 243.6L214.7 243.6L216.2 243.6L217.6 243.5L219.0 243.3L220.5 243.0L221.9 242.8L221.9 242.7L223.3 241.4L223.4 241.4L223.3 241.3L222.4 240.0L221.9 239.6L220.6 238.6L220.5 238.5L219.0 237.7L218.2 237.2L217.6 236.8L216.2 236.1L215.6 235.8L214.7 235.4L213.3 234.8L212.3 234.4L211.9 234.2L210.5 233.8L209.0 233.4L207.6 233.2L206.5 233.0L206.2 233.0L204.7 232.8L203.3 232.7L201.9 232.6L200.4 232.7L199.0 232.7L197.6 232.8L196.2 233.0L195.6 233.0L194.7 233.2L193.3 233.4L191.9 233.8L190.4 234.3L190.2 234.4L190.1 235.8L190.4 236.2L191.1 237.2L191.9 237.7L193.3 238.6L193.3 238.6L194.7 239.3L195.8 240.0L196.2 240.2L197.6 240.9L198.6 241.4L199.0 241.6L200.4 242.0L201.9 242.4L203.3 242.6ZM240.5 242.7L241.9 242.9L243.3 243.0L244.8 243.0L246.2 243.1L247.6 243.1L249.0 243.1L250.5 243.2L251.9 243.2L253.3 243.2L254.8 243.2L256.2 243.0L257.0 242.7L257.6 242.7L259.0 242.7L260.5 242.6L261.9 242.5L263.3 242.5L264.8 242.4L266.2 242.3L267.6 242.2L269.0 242.2L270.5 242.2L271.9 242.2L273.3 242.1L274.8 242.1L276.2 242.0L277.6 241.8L278.7 241.4L279.1 241.3L280.5 241.2L281.9 241.0L283.3 240.8L284.8 240.6L286.2 240.4L287.6 240.1L288.0 240.0L289.1 239.4L290.0 238.6L289.3 237.2L289.1 237.0L287.7 235.8L287.6 235.7L286.2 234.8L285.7 234.4L284.8 233.9L283.3 233.1L283.2 233.0L281.9 232.3L280.6 231.6L280.5 231.6L279.1 230.8L277.6 230.3L277.5 230.3L276.2 229.7L274.8 229.2L273.3 228.9L273.3 228.9L271.9 228.5L270.5 228.2L269.0 228.0L267.6 227.8L266.2 227.7L264.8 227.7L263.3 227.6L261.9 227.6L260.5 227.6L259.0 227.6L257.6 227.6L256.2 227.7L254.8 227.7L253.3 227.7L251.9 227.8L250.5 227.8L249.0 227.9L247.6 228.0L246.2 228.0L244.8 228.0L243.3 228.0L241.9 228.0L240.5 228.0L239.0 228.0L237.6 227.9L236.2 227.9L234.7 227.8L234.1 227.5L234.7 227.4L236.2 227.4L237.6 227.3L239.0 227.2L240.5 227.1L241.9 227.0L243.3 226.9L244.8 226.8L246.2 226.7L247.6 226.6L249.0 226.6L250.5 226.5L251.9 226.4L253.3 226.1L253.3 226.1L254.8 225.8L256.2 225.5L257.6 225.2L259.0 224.8L259.4 224.7L259.2 223.3L259.0 223.2L257.6 222.6L256.2 222.1L255.5 221.9L254.8 221.8L253.3 221.5L251.9 221.3L250.5 221.2L249.0 221.1L247.6 221.0L246.2 220.9L244.8 220.9L243.3 220.9L241.9 220.9L240.5 220.9L239.0 220.9L237.6 221.0L236.2 221.0L234.7 221.1L233.3 221.2L231.9 221.2L230.5 221.3L229.0 221.4L227.6 221.5L226.2 221.6L224.7 221.7L223.3 221.8L221.9 221.9L221.8 221.9L220.5 222.1L219.0 222.3L217.6 222.5L216.2 222.7L214.7 222.9L213.3 223.2L212.8 223.3L211.9 223.9L210.7 224.7L211.9 225.9L212.0 226.1L213.3 226.5L214.7 226.9L216.2 227.2L217.6 227.5L217.8 227.5L219.0 227.6L220.5 227.7L221.9 227.7L223.3 227.7L224.7 227.8L226.2 227.8L227.6 227.8L229.0 227.9L230.5 227.9L231.9 228.0L233.3 228.1L233.8 228.9L233.3 228.9L231.9 229.0L230.5 229.1L229.0 229.3L227.6 229.4L226.2 229.6L224.7 229.8L223.3 230.0L221.9 230.2L221.5 230.3L220.5 230.6L219.0 231.2L218.1 231.6L218.3 233.0L219.0 233.7L219.7 234.4L220.5 234.9L221.7 235.8L221.9 235.9L223.3 236.9L223.9 237.2L224.7 237.7L226.2 238.4L226.5 238.6L227.6 239.2L229.0 239.8L229.4 240.0L230.5 240.5L231.9 241.0L233.1 241.4L233.3 241.4L234.7 241.9L236.2 242.2L237.6 242.4L239.0 242.6L240.5 242.7ZM298.8 237.2L299.1 237.3L300.5 237.6L301.9 237.8L303.3 237.9L304.8 238.0L306.2 238.1L307.6 238.1L309.1 238.0L310.5 237.9L311.9 237.8L313.4 237.7L314.8 237.4L315.8 237.2L316.2 237.0L317.6 236.3L318.2 235.8L317.9 234.4L317.6 234.2L316.3 233.0L316.2 233.0L314.8 232.2L314.0 231.6L313.4 231.2L311.9 230.4L311.6 230.3L310.5 229.8L309.1 229.3L307.7 228.9L307.6 228.9L306.2 228.4L304.8 228.1L303.3 227.8L301.9 227.6L300.8 227.5L300.5 227.4L299.1 227.3L297.6 227.2L296.2 227.1L294.8 227.1L293.3 227.1L291.9 227.2L290.5 227.3L289.1 227.4L288.2 227.5L287.6 227.6L286.2 228.0L284.8 228.8L284.7 228.9L284.8 229.0L285.3 230.3L286.2 231.0L286.9 231.6L287.6 232.1L288.9 233.0L289.1 233.1L290.5 233.9L291.4 234.4L291.9 234.7L293.3 235.3L294.6 235.8L294.8 235.9L296.2 236.4L297.6 236.9ZM334.4 234.4L334.8 234.5L336.2 234.7L337.6 234.9L339.1 234.9L340.5 234.9L341.9 234.7L343.3 234.4L343.4 234.4L344.8 234.2L346.2 233.9L347.4 233.0L347.1 231.6L346.2 231.0L345.3 230.3L344.8 229.9L343.4 229.1L342.9 228.9L341.9 228.5L340.5 228.2L339.1 227.9L337.7 227.5L337.6 227.5L336.2 227.1L334.8 226.9L333.4 226.8L331.9 226.8L330.5 226.8L329.1 226.7L327.6 226.7L326.2 226.9L324.8 227.2L323.4 227.4L322.9 227.5L321.9 228.8L321.9 228.9L321.9 228.9L323.4 229.7L324.1 230.3L324.8 230.7L326.0 231.6L326.2 231.8L327.6 232.5L328.9 233.0L329.1 233.1L330.5 233.5L331.9 233.8L333.4 234.2ZM369.4 231.6L370.5 231.7L371.9 231.7L373.4 231.7L374.8 231.7L375.1 231.6L376.2 230.9L376.9 230.3L376.2 228.9L376.0 228.9L374.8 228.8L373.4 228.6L371.9 227.8L371.2 227.5L370.5 227.2L369.1 226.9L367.7 226.9L366.2 226.8L364.8 226.4L363.4 226.4L361.9 226.6L360.5 227.2L360.1 227.5L360.5 228.0L360.8 228.9L361.9 229.3L363.4 229.6L364.8 230.1L365.3 230.3L366.2 230.6L367.7 231.1L369.1 231.6ZM399.1 228.9L399.1 228.9L400.5 229.1L402.0 229.0L402.8 228.9L403.4 228.6L404.8 228.7L406.2 228.0L406.7 227.5L406.2 227.1L405.5 226.1L404.8 225.8L403.4 225.7L402.1 226.1L402.0 226.2L400.5 226.3L399.1 227.3L399.0 227.5ZM208.6 219.2L209.0 219.2L210.5 219.3L211.9 219.4L213.3 219.4L214.7 219.4L216.2 219.4L217.6 219.4L219.0 219.4L220.5 219.3L221.9 219.3L223.3 219.2L224.7 219.2L225.0 219.2L226.2 219.1L227.6 218.9L229.0 218.8L230.5 218.7L231.9 218.5L233.3 218.4L234.7 218.2L236.2 218.1L237.6 217.9L238.5 217.8L239.0 217.5L240.5 216.8L241.3 216.4L240.5 215.9L239.0 215.2L238.5 215.0L237.6 214.8L236.2 214.6L234.7 214.5L233.3 214.3L231.9 214.2L230.5 214.2L229.0 214.1L227.6 214.1L226.2 214.1L224.7 214.2L223.3 214.2L221.9 214.2L220.5 214.3L219.0 214.4L217.6 214.4L216.2 214.5L214.7 214.6L213.3 214.7L211.9 214.9L210.5 215.0L210.5 215.0L209.0 215.2L207.6 215.5L206.2 215.8L204.7 216.1L203.7 216.4L203.3 217.5L203.2 217.8L203.3 217.8L204.7 218.3L206.2 218.7L207.6 219.0ZM199.2 210.8L200.4 210.9L201.9 211.0L203.3 211.0L204.7 211.1L206.2 211.1L207.6 211.1L209.0 211.0L210.5 211.0L211.9 210.9L213.3 210.8L213.3 210.8L214.7 210.7L216.2 210.5L217.6 210.2L219.0 210.0L220.5 209.7L221.9 209.5L221.9 209.4L221.9 209.4L220.7 208.1L220.5 208.0L219.0 207.8L217.6 207.7L216.2 207.6L214.7 207.5L213.3 207.5L211.9 207.5L210.5 207.5L209.0 207.5L207.6 207.6L206.2 207.7L204.7 207.7L203.3 207.8L201.9 208.0L200.8 208.1L200.4 208.1L199.0 208.5L197.6 208.9L196.2 209.3L195.8 209.4L196.2 209.7L197.6 210.3L199.0 210.8Z"/>
<path stroke="#463de0" d="M274.0 255.2L274.8 255.3L276.2 255.5L277.6 255.6L279.1 255.7L280.5 255.8L281.9 255.8L283.3 255.8L284.8 255.8L286.2 255.7L287.6 255.7L289.1 255.6L290.5 255.5L291.9 255.4L293.3 255.3L294.4 255.2L294.8 255.2L296.2 254.9L297.6 254.5L299.1 254.2L300.2 253.8L299.1 252.9L298.3 252.5L297.6 252.4L296.2 252.2L294.8 252.1L293.3 252.0L291.9 252.0L290.5 252.0L289.1 252.0L287.6 252.0L286.2 252.0L284.8 252.1L283.3 252.1L281.9 252.2L280.5 252.3L279.1 252.4L278.2 252.5L277.6 252.6L276.2 252.9L274.8 253.2L273.3 253.5L271.9 253.8L273.3 254.9ZM254.4 248.3L254.8 248.4L256.2 248.6L257.6 248.8L259.0 249.0L260.5 249.1L261.9 249.2L263.3 249.2L264.8 249.3L266.2 249.3L267.6 249.3L269.0 249.3L270.5 249.2L271.9 249.2L273.3 249.1L274.8 249.1L276.2 249.0L277.6 248.9L279.1 248.8L280.5 248.7L281.9 248.6L283.3 248.5L284.8 248.4L285.7 248.3L286.2 248.2L287.6 248.0L289.1 247.8L290.5 247.5L291.9 247.2L293.1 246.9L293.3 246.6L294.3 245.5L293.3 245.0L291.9 244.3L291.6 244.1L290.5 243.9L289.1 243.7L287.6 243.5L286.2 243.4L284.8 243.4L283.3 243.3L281.9 243.3L280.5 243.3L279.1 243.3L277.6 243.3L276.2 243.4L274.8 243.4L273.3 243.5L271.9 243.6L270.5 243.6L269.0 243.7L267.6 243.8L266.2 243.8L264.8 243.9L263.3 244.0L262.0 244.1L261.9 244.1L260.5 244.3L259.0 244.5L257.6 244.7L256.2 244.9L254.8 245.1L253.3 245.4L252.4 245.5L251.9 246.1L251.2 246.9L251.9 247.3L253.3 247.9ZM139.4 242.7L140.4 243.5L141.9 243.5L143.2 242.7L142.7 241.4L141.9 241.1L140.4 240.9L139.2 241.4ZM174.2 242.7L174.7 242.9L176.2 243.3L177.6 243.3L179.0 243.0L180.4 242.8L180.7 242.7L181.9 242.6L183.0 241.4L181.9 240.6L181.1 240.0L180.4 239.7L179.0 239.4L177.7 238.6L177.6 238.5L176.2 237.7L174.7 237.4L173.3 237.3L172.9 237.2L171.9 237.0L170.4 236.9L169.0 236.9L167.6 237.1L167.3 237.2L166.1 237.8L165.4 238.6L165.2 240.0L166.1 240.9L166.9 241.4L167.6 241.5L169.0 241.8L170.4 242.2L171.9 242.3L173.3 242.5ZM208.8 242.7L209.0 242.8L210.5 242.9L211.9 242.9L213.3 242.9L214.7 242.9L216.2 242.8L217.2 242.7L217.6 242.7L219.0 242.4L220.5 241.8L221.2 241.4L220.9 240.0L220.5 239.6L219.3 238.6L219.0 238.4L217.6 237.5L217.1 237.2L216.2 236.7L214.7 236.1L214.2 235.8L213.3 235.4L211.9 234.9L210.5 234.4L210.4 234.4L209.0 234.1L207.6 233.8L206.2 233.6L204.7 233.5L203.3 233.4L201.9 233.3L200.4 233.4L199.0 233.5L197.6 233.6L196.2 233.9L194.7 234.2L193.9 234.4L193.3 234.7L192.2 235.8L192.7 237.2L193.3 237.5L194.7 238.4L195.0 238.6L196.2 239.3L197.3 240.0L197.6 240.1L199.0 240.7L200.4 241.2L201.1 241.4L201.9 241.6L203.3 241.9L204.7 242.2L206.2 242.4L207.6 242.6ZM234.7 241.4L234.7 241.4L236.2 241.8L237.6 242.1L239.0 242.3L240.5 242.4L241.9 242.5L243.3 242.6L244.8 242.7L246.2 242.7L247.6 242.7L249.0 242.7L250.5 242.7L251.9 242.7L253.3 242.7L254.8 242.6L256.2 242.6L257.6 242.5L259.0 242.5L260.5 242.4L261.9 242.4L263.3 242.3L264.8 242.2L266.2 242.1L267.6 242.0L269.0 242.0L270.5 241.9L271.9 241.9L273.3 241.8L274.8 241.6L276.1 241.4L276.2 241.4L277.6 241.2L279.1 241.1L280.5 240.9L281.9 240.7L283.3 240.5L284.8 240.2L286.0 240.0L286.2 239.9L287.6 239.2L288.5 238.6L288.2 237.2L287.6 236.7L286.8 235.8L286.2 235.4L284.8 234.4L284.8 234.4L283.3 233.5L282.4 233.0L281.9 232.7L280.5 232.0L279.7 231.6L279.1 231.3L277.6 230.7L276.4 230.3L276.2 230.2L274.8 229.6L273.3 229.3L271.9 229.0L271.4 228.9L270.5 228.6L269.0 228.4L267.6 228.2L266.2 228.1L264.8 228.0L263.3 227.9L261.9 227.9L260.5 227.8L259.0 227.8L257.6 227.8L256.2 227.9L254.8 227.9L253.3 227.9L251.9 228.0L250.5 228.0L249.0 228.1L247.6 228.2L246.2 228.2L244.8 228.2L243.3 228.3L241.9 228.3L240.5 228.3L239.0 228.4L237.6 228.6L236.5 228.9L236.2 228.9L234.7 229.0L233.3 229.1L231.9 229.2L230.5 229.4L229.0 229.5L227.6 229.7L226.2 229.9L224.7 230.1L223.7 230.3L223.3 230.4L221.9 230.8L220.5 231.3L219.8 231.6L219.5 233.0L220.5 234.1L220.6 234.4L221.9 235.3L222.5 235.8L223.3 236.3L224.7 237.2L224.7 237.2L226.2 238.0L227.4 238.6L227.6 238.7L229.0 239.4L230.5 240.0L230.5 240.0L231.9 240.6L233.3 241.0ZM302.7 237.2L303.3 237.3L304.8 237.4L306.2 237.4L307.6 237.4L309.1 237.3L310.5 237.2L310.7 237.2L311.9 237.0L313.4 236.7L314.8 236.1L315.3 235.8L315.7 234.4L314.8 233.4L314.5 233.0L313.4 232.3L312.4 231.6L311.9 231.4L310.5 230.7L309.4 230.3L309.1 230.1L307.6 229.6L306.2 229.2L304.8 228.9L304.8 228.9L303.3 228.6L301.9 228.3L300.5 228.1L299.1 228.0L297.6 227.9L296.2 227.8L294.8 227.8L293.3 227.8L291.9 227.9L290.5 228.1L289.1 228.3L287.6 228.8L287.3 228.9L286.9 230.3L287.6 231.0L288.1 231.6L289.1 232.3L290.1 233.0L290.5 233.2L291.9 234.0L292.7 234.4L293.3 234.7L294.8 235.3L296.2 235.8L296.3 235.8L297.6 236.2L299.1 236.6L300.5 236.9L301.9 237.1ZM333.7 233.0L334.8 233.3L336.2 233.6L337.6 233.6L339.1 233.4L340.5 233.1L341.0 233.0L341.9 232.7L343.4 232.1L343.9 231.6L343.4 231.3L341.9 230.8L340.6 230.3L340.5 230.2L339.1 229.5L338.1 228.9L337.6 228.7L336.2 228.3L334.8 228.1L333.4 228.0L331.9 228.1L330.5 228.2L329.1 228.2L327.6 228.6L327.3 228.9L327.4 230.3L327.6 230.5L328.5 231.6L329.1 231.9L330.5 232.3L331.9 232.6L333.4 232.9ZM215.1 226.1L216.2 226.4L217.6 226.7L219.0 226.9L220.5 227.1L221.9 227.2L223.3 227.3L224.7 227.3L226.2 227.4L227.6 227.4L229.0 227.3L230.5 227.3L231.9 227.3L233.3 227.2L234.7 227.1L236.2 227.0L237.6 227.0L239.0 226.9L240.5 226.8L241.9 226.7L243.3 226.6L244.8 226.5L246.2 226.4L247.6 226.3L249.0 226.2L249.9 226.1L250.5 226.0L251.9 225.7L253.3 225.4L254.8 225.1L256.2 224.8L256.5 224.7L256.3 223.3L256.2 223.3L254.8 222.8L253.3 222.4L251.9 222.0L251.4 221.9L250.5 221.8L249.0 221.7L247.6 221.5L246.2 221.5L244.8 221.4L243.3 221.4L241.9 221.3L240.5 221.3L239.0 221.4L237.6 221.4L236.2 221.4L234.7 221.5L233.3 221.5L231.9 221.6L230.5 221.7L229.0 221.8L227.6 221.9L226.7 221.9L226.2 222.0L224.7 222.1L223.3 222.3L221.9 222.5L220.5 222.6L219.0 222.8L217.6 223.1L216.2 223.3L216.2 223.4L214.7 224.1L213.6 224.7L214.7 225.8ZM208.3 217.8L209.0 217.9L210.5 218.2L211.9 218.4L213.3 218.5L214.7 218.6L216.2 218.7L217.6 218.7L219.0 218.7L220.5 218.7L221.9 218.6L223.3 218.5L224.7 218.5L226.2 218.4L227.6 218.3L229.0 218.2L230.5 218.0L231.9 217.9L233.0 217.8L233.3 217.6L234.7 217.1L236.2 216.5L236.3 216.4L236.2 216.3L234.7 215.8L233.3 215.4L231.9 215.2L230.8 215.0L230.5 215.0L229.0 214.9L227.6 214.9L226.2 214.8L224.7 214.8L223.3 214.8L221.9 214.9L220.5 214.9L219.0 215.0L219.0 215.0L217.6 215.1L216.2 215.3L214.7 215.4L213.3 215.6L211.9 215.8L210.5 216.1L209.0 216.3L208.8 216.4Z"/>
<path stroke="#4747eb" d="M278.2 253.8L279.1 254.1L280.5 254.4L281.9 254.6L283.3 254.7L284.8 254.7L286.2 254.7L287.6 254.6L289.1 254.5L290.5 254.3L291.9 254.2L293.3 253.9L293.8 253.8L293.3 253.7L291.9 253.3L290.5 253.1L289.1 253.0L287.6 252.9L286.2 253.0L284.8 253.1L283.3 253.2L281.9 253.3L280.5 253.5L279.1 253.7ZM258.4 248.3L259.0 248.4L260.5 248.5L261.9 248.7L263.3 248.7L264.8 248.8L266.2 248.8L267.6 248.8L269.0 248.8L270.5 248.8L271.9 248.8L273.3 248.7L274.8 248.7L276.2 248.6L277.6 248.5L279.1 248.4L280.5 248.3L281.0 248.3L281.9 248.2L283.3 248.0L284.8 247.8L286.2 247.6L287.6 247.4L289.1 247.1L289.9 246.9L290.5 246.4L291.4 245.5L290.5 245.1L289.1 244.5L287.9 244.1L287.6 244.1L286.2 243.9L284.8 243.8L283.3 243.7L281.9 243.7L280.5 243.7L279.1 243.7L277.6 243.7L276.2 243.7L274.8 243.7L273.3 243.8L271.9 243.8L270.5 243.9L269.0 244.0L267.6 244.0L266.2 244.1L265.9 244.1L264.8 244.3L263.3 244.4L261.9 244.6L260.5 244.8L259.0 245.0L257.6 245.2L256.2 245.4L255.4 245.5L254.8 246.2L254.1 246.9L254.8 247.2L256.2 247.7L257.6 248.1ZM173.9 241.4L174.7 241.5L176.2 241.7L177.6 241.4L177.8 241.4L177.6 241.0L177.2 240.0L176.2 239.3L174.7 238.9L173.3 239.4L172.7 240.0L173.3 240.8ZM204.1 241.4L204.7 241.5L206.2 241.7L207.6 241.8L209.0 242.1L210.5 242.2L211.9 242.2L213.3 242.2L214.7 242.1L216.2 242.0L217.6 241.7L218.8 241.4L219.0 240.8L219.2 240.0L219.0 239.8L217.9 238.6L217.6 238.4L216.2 237.5L215.7 237.2L214.7 236.8L213.3 236.1L212.6 235.8L211.9 235.5L210.5 235.1L209.0 234.7L207.6 234.4L207.5 234.4L206.2 234.3L204.7 234.1L203.3 234.0L201.9 234.0L200.4 234.1L199.0 234.2L197.9 234.4L197.6 234.5L196.2 235.2L194.8 235.8L194.9 237.2L196.2 238.1L196.6 238.6L197.6 239.2L199.0 239.8L199.4 240.0L200.4 240.3L201.9 240.7L203.3 241.2ZM236.2 241.4L237.6 241.7L239.0 241.9L240.5 242.1L241.9 242.3L243.3 242.4L244.8 242.4L246.2 242.5L247.6 242.5L249.0 242.5L250.5 242.5L251.9 242.5L253.3 242.5L254.8 242.5L256.2 242.4L257.6 242.4L259.0 242.3L260.5 242.2L261.9 242.2L263.3 242.1L264.8 242.0L266.2 241.9L267.6 241.8L269.0 241.8L270.5 241.7L271.9 241.6L273.3 241.4L273.7 241.4L274.8 241.3L276.2 241.1L277.6 241.0L279.1 240.8L280.5 240.6L281.9 240.4L283.3 240.1L284.1 240.0L284.8 239.7L286.2 239.1L287.2 238.6L287.2 237.2L286.2 236.1L286.0 235.8L284.8 235.0L284.0 234.4L283.3 234.0L281.9 233.2L281.7 233.0L280.5 232.4L279.1 231.7L278.8 231.6L277.6 231.1L276.2 230.6L275.2 230.3L274.8 230.1L273.3 229.6L271.9 229.3L270.5 229.0L269.5 228.9L269.0 228.8L267.6 228.6L266.2 228.4L264.8 228.3L263.3 228.2L261.9 228.1L260.5 228.1L259.0 228.1L257.6 228.1L256.2 228.1L254.8 228.1L253.3 228.1L251.9 228.2L250.5 228.2L249.0 228.3L247.6 228.3L246.2 228.4L244.8 228.4L243.3 228.5L241.9 228.6L240.5 228.7L239.1 228.9L239.0 228.9L237.6 229.0L236.2 229.1L234.7 229.2L233.3 229.3L231.9 229.5L230.5 229.6L229.0 229.8L227.6 230.0L226.2 230.2L225.7 230.3L224.7 230.5L223.3 230.9L221.9 231.4L221.2 231.6L220.6 233.0L221.5 234.4L221.9 234.7L223.3 235.8L223.3 235.8L224.7 236.7L225.5 237.2L226.2 237.5L227.6 238.3L228.2 238.6L229.0 239.0L230.5 239.6L231.5 240.0L231.9 240.1L233.3 240.6L234.7 241.0L236.2 241.3ZM298.5 235.8L299.1 236.0L300.5 236.3L301.9 236.5L303.3 236.6L304.8 236.7L306.2 236.7L307.6 236.6L309.1 236.5L310.5 236.3L311.9 236.0L312.6 235.8L313.4 234.9L313.6 234.4L313.4 234.0L312.7 233.0L311.9 232.5L310.6 231.6L310.5 231.6L309.1 231.0L307.6 230.5L307.1 230.3L306.2 230.0L304.8 229.6L303.3 229.3L301.9 229.0L300.8 228.9L300.5 228.8L299.1 228.7L297.6 228.6L296.2 228.5L294.8 228.5L293.3 228.6L291.9 228.7L290.7 228.9L290.5 228.9L289.1 229.8L288.7 230.3L289.1 230.8L289.5 231.6L290.5 232.3L291.5 233.0L291.9 233.3L293.3 234.0L294.3 234.4L294.8 234.6L296.2 235.1L297.6 235.6ZM334.7 231.6L334.8 231.7L336.2 232.0L337.1 231.6L337.0 230.3L336.2 229.8L334.8 229.8L333.4 230.0L331.9 230.2L331.7 230.3L331.9 230.3L333.4 230.6ZM218.3 226.1L219.0 226.2L220.5 226.5L221.9 226.7L223.3 226.8L224.7 226.9L226.2 226.9L227.6 226.9L229.0 226.9L230.5 226.9L231.9 226.9L233.3 226.9L234.7 226.8L236.2 226.7L237.6 226.7L239.0 226.6L240.5 226.5L241.9 226.4L243.3 226.3L244.8 226.2L246.2 226.1L246.4 226.1L247.6 225.9L249.0 225.6L250.5 225.4L251.9 225.1L253.3 224.8L253.6 224.7L253.3 223.6L253.3 223.3L251.9 222.9L250.5 222.6L249.0 222.3L247.6 222.1L246.2 222.0L245.6 221.9L244.8 221.9L243.3 221.8L241.9 221.8L240.5 221.8L239.0 221.8L237.6 221.8L236.2 221.8L234.7 221.9L233.3 221.9L233.0 221.9L231.9 222.0L230.5 222.1L229.0 222.2L227.6 222.3L226.2 222.5L224.7 222.6L223.3 222.8L221.9 223.0L220.5 223.2L219.6 223.3L219.0 223.6L217.6 224.2L216.5 224.7L217.6 225.6ZM216.4 217.8L217.6 217.8L219.0 217.9L220.5 217.9L221.9 217.9L223.3 217.8L224.6 217.8L224.7 217.7L226.2 217.4L227.6 217.0L229.0 216.6L229.7 216.4L229.0 216.3L227.6 216.1L226.2 216.0L224.7 215.9L223.3 215.9L221.9 215.9L220.5 216.0L219.0 216.1L217.6 216.2L216.2 216.3L215.6 216.4L216.2 217.5Z"/>
<path stroke="#4851f3" d="M264.4 248.3L264.8 248.3L266.2 248.4L267.6 248.4L269.0 248.4L270.5 248.4L271.9 248.4L273.3 248.3L274.5 248.3L274.8 248.3L276.2 248.2L277.6 248.1L279.1 247.9L280.5 247.8L281.9 247.6L283.3 247.4L284.8 247.2L286.2 247.0L286.6 246.9L287.6 246.1L288.4 245.5L287.6 245.2L286.2 244.8L284.8 244.5L283.3 244.2L282.7 244.1L281.9 244.1L280.5 244.0L279.1 244.0L277.6 244.0L276.2 244.0L274.8 244.0L273.3 244.1L271.9 244.1L271.2 244.1L270.5 244.2L269.0 244.3L267.6 244.4L266.2 244.6L264.8 244.7L263.3 244.9L261.9 245.1L260.5 245.2L259.0 245.4L258.5 245.5L257.6 246.4L257.1 246.9L257.6 247.1L259.0 247.5L260.5 247.8L261.9 248.0L263.3 248.2ZM209.2 241.4L210.5 241.5L211.9 241.5L213.3 241.4L213.9 241.4L214.7 241.2L216.2 240.8L217.3 240.0L216.4 238.6L216.2 238.4L214.7 237.6L214.1 237.2L213.3 236.9L211.9 236.3L210.6 235.8L210.5 235.7L209.0 235.4L207.6 235.1L206.2 235.0L204.7 234.9L203.3 234.8L201.9 234.8L200.4 235.0L199.0 235.3L197.7 235.8L197.6 236.2L197.3 237.2L197.6 237.5L198.6 238.6L199.0 238.8L200.4 239.3L201.9 239.9L202.1 240.0L203.3 240.4L204.7 240.7L206.2 240.9L207.6 241.1L209.0 241.3ZM237.9 241.4L239.0 241.6L240.5 241.8L241.9 242.0L243.3 242.1L244.8 242.2L246.2 242.2L247.6 242.3L249.0 242.3L250.5 242.3L251.9 242.3L253.3 242.3L254.8 242.3L256.2 242.2L257.6 242.2L259.0 242.1L260.5 242.1L261.9 242.0L263.3 241.9L264.8 241.8L266.2 241.8L267.6 241.7L269.0 241.6L270.5 241.5L271.4 241.4L271.9 241.3L273.3 241.2L274.8 241.0L276.2 240.9L277.6 240.7L279.1 240.5L280.5 240.3L281.9 240.1L282.4 240.0L283.3 239.7L284.8 239.1L285.9 238.6L286.2 237.2L286.2 237.2L286.2 237.2L285.1 235.8L284.8 235.6L283.3 234.5L283.2 234.4L281.9 233.6L280.9 233.0L280.5 232.8L279.1 232.1L277.9 231.6L277.6 231.5L276.2 230.9L274.8 230.4L274.1 230.3L273.3 230.0L271.9 229.6L270.5 229.3L269.0 229.1L267.6 228.9L267.4 228.9L266.2 228.7L264.8 228.6L263.3 228.5L261.9 228.4L260.5 228.3L259.0 228.3L257.6 228.3L256.2 228.3L254.8 228.3L253.3 228.3L251.9 228.4L250.5 228.4L249.0 228.5L247.6 228.5L246.2 228.6L244.8 228.7L243.3 228.7L241.9 228.9L241.8 228.9L240.5 229.0L239.0 229.0L237.6 229.2L236.2 229.3L234.7 229.4L233.3 229.5L231.9 229.7L230.5 229.9L229.0 230.0L227.6 230.3L227.6 230.3L226.2 230.5L224.7 230.9L223.3 231.4L222.6 231.6L221.9 232.6L221.6 233.0L221.9 233.4L222.4 234.4L223.3 235.2L224.1 235.8L224.7 236.2L226.2 237.1L226.3 237.2L227.6 237.9L229.0 238.6L229.0 238.6L230.5 239.2L231.9 239.8L232.5 240.0L233.3 240.3L234.7 240.7L236.2 241.0L237.6 241.3ZM301.9 235.8L301.9 235.8L303.3 235.9L304.8 236.0L306.2 236.0L307.6 235.8L307.9 235.8L309.1 235.5L310.5 234.9L311.2 234.4L310.5 233.0L310.5 233.0L309.1 232.0L308.5 231.6L307.6 231.3L306.2 230.8L304.8 230.3L304.6 230.3L303.3 230.0L301.9 229.8L300.5 229.6L299.1 229.4L297.6 229.3L296.2 229.3L294.8 229.4L293.3 229.5L291.9 229.8L290.9 230.3L291.2 231.6L291.9 232.1L293.0 233.0L293.3 233.2L294.8 233.8L296.2 234.4L296.2 234.4L297.6 234.9L299.1 235.3L300.5 235.6ZM222.0 226.1L223.3 226.3L224.7 226.4L226.2 226.5L227.6 226.5L229.0 226.5L230.5 226.6L231.9 226.5L233.3 226.5L234.7 226.5L236.2 226.4L237.6 226.4L239.0 226.3L240.5 226.2L241.9 226.1L242.5 226.1L243.3 226.0L244.8 225.7L246.2 225.5L247.6 225.3L249.0 225.0L250.5 224.7L250.6 224.7L250.5 224.5L250.0 223.3L249.0 223.1L247.6 222.9L246.2 222.7L244.8 222.5L243.3 222.4L241.9 222.3L240.5 222.3L239.0 222.3L237.6 222.3L236.2 222.3L234.7 222.3L233.3 222.4L231.9 222.5L230.5 222.6L229.0 222.7L227.6 222.8L226.2 223.0L224.7 223.1L223.3 223.3L223.2 223.3L221.9 223.8L220.5 224.3L219.5 224.7L220.5 225.3L221.9 226.1Z"/>
<path stroke="#475bf9" d="M260.6 246.9L261.9 247.2L263.3 247.4L264.8 247.6L266.2 247.7L267.6 247.8L269.0 247.8L270.5 247.8L271.9 247.8L273.3 247.8L274.8 247.7L276.2 247.6L277.6 247.5L279.1 247.4L280.5 247.2L281.9 247.0L282.8 246.9L283.3 246.6L284.8 245.7L285.0 245.5L284.8 245.4L283.3 245.1L281.9 244.9L280.5 244.7L279.1 244.6L277.6 244.5L276.2 244.5L274.8 244.5L273.3 244.6L271.9 244.6L270.5 244.7L269.0 244.8L267.6 244.9L266.2 245.1L264.8 245.2L263.3 245.4L261.9 245.5L261.9 245.5ZM239.6 241.4L240.5 241.5L241.9 241.7L243.3 241.8L244.8 241.9L246.2 242.0L247.6 242.1L249.0 242.1L250.5 242.1L251.9 242.1L253.3 242.1L254.8 242.1L256.2 242.1L257.6 242.0L259.0 242.0L260.5 241.9L261.9 241.8L263.3 241.8L264.8 241.7L266.2 241.6L267.6 241.5L269.0 241.4L269.1 241.4L270.5 241.2L271.9 241.1L273.3 241.0L274.8 240.8L276.2 240.7L277.6 240.5L279.1 240.3L280.5 240.0L280.8 240.0L281.9 239.7L283.3 239.2L284.7 238.6L284.8 238.4L285.3 237.2L284.8 236.5L284.3 235.8L283.3 235.1L282.5 234.4L281.9 234.1L280.5 233.2L280.1 233.0L279.1 232.5L277.6 231.9L277.1 231.6L276.2 231.3L274.8 230.8L273.3 230.4L272.9 230.3L271.9 230.0L270.5 229.6L269.0 229.4L267.6 229.2L266.2 229.0L264.9 228.9L264.8 228.9L263.3 228.7L261.9 228.6L260.5 228.6L259.0 228.5L257.6 228.5L256.2 228.5L254.8 228.5L253.3 228.5L251.9 228.6L250.5 228.6L249.0 228.7L247.6 228.7L246.2 228.8L244.8 228.9L244.7 228.9L243.3 228.9L241.9 229.0L240.5 229.1L239.0 229.2L237.6 229.3L236.2 229.5L234.7 229.6L233.3 229.7L231.9 229.9L230.5 230.1L229.3 230.3L229.0 230.3L227.6 230.6L226.2 230.9L224.7 231.3L223.9 231.6L223.3 232.2L222.6 233.0L223.3 234.4L223.3 234.5L224.7 235.7L224.8 235.8L226.2 236.6L227.1 237.2L227.6 237.5L229.0 238.2L229.9 238.6L230.5 238.9L231.9 239.4L233.3 239.9L233.5 240.0L234.7 240.4L236.2 240.7L237.6 241.0L239.0 241.3ZM204.9 240.0L206.2 240.1L207.6 240.3L209.0 240.5L210.5 240.6L211.9 240.5L213.3 240.2L214.1 240.0L214.4 238.6L213.3 238.0L212.2 237.2L211.9 237.1L210.5 236.6L209.0 236.2L207.6 235.9L207.2 235.8L206.2 235.7L204.7 235.7L203.3 235.7L201.9 235.8L201.5 235.8L200.4 236.4L199.8 237.2L200.4 237.8L201.3 238.6L201.9 238.8L203.3 239.4L204.7 239.9ZM298.6 234.4L299.1 234.5L300.5 234.8L301.9 235.0L303.3 235.1L304.8 235.1L306.2 234.9L307.6 234.6L308.0 234.4L308.2 233.0L307.6 232.6L306.2 231.7L306.2 231.6L304.8 231.2L303.3 230.8L301.9 230.6L300.5 230.4L299.9 230.3L299.1 230.2L297.6 230.1L296.2 230.2L295.2 230.3L294.8 230.4L293.3 231.6L293.3 231.6L293.3 231.7L294.8 232.9L294.9 233.0L296.2 233.5L297.6 234.1ZM227.5 226.1L227.6 226.1L229.0 226.2L230.5 226.2L231.9 226.2L233.3 226.2L234.7 226.2L236.2 226.1L236.7 226.1L237.6 226.0L239.0 225.9L240.5 225.7L241.9 225.5L243.3 225.3L244.8 225.1L246.2 224.9L247.2 224.7L246.2 223.5L246.0 223.3L244.8 223.2L243.3 223.0L241.9 222.9L240.5 222.8L239.0 222.8L237.6 222.8L236.2 222.8L234.7 222.8L233.3 222.9L231.9 223.0L230.5 223.1L229.0 223.2L227.6 223.3L227.5 223.3L226.2 223.7L224.7 224.1L223.3 224.5L222.8 224.7L223.3 225.0L224.7 225.5L226.2 225.9Z"/>
<path stroke="#4465fd" d="M265.4 246.9L266.2 247.0L267.6 247.1L269.0 247.2L270.5 247.2L271.9 247.2L273.3 247.2L274.8 247.1L276.2 247.0L277.6 246.9L277.8 246.9L279.1 246.3L280.5 245.6L280.6 245.5L280.5 245.5L279.1 245.3L277.6 245.2L276.2 245.2L274.8 245.1L273.3 245.1L271.9 245.2L270.5 245.2L269.0 245.3L267.6 245.4L266.4 245.5L266.2 245.8ZM241.6 241.4L241.9 241.4L243.3 241.6L244.8 241.7L246.2 241.8L247.6 241.9L249.0 241.9L250.5 241.9L251.9 241.9L253.3 241.9L254.8 241.9L256.2 241.9L257.6 241.8L259.0 241.8L260.5 241.7L261.9 241.7L263.3 241.6L264.8 241.5L266.2 241.4L266.6 241.4L267.6 241.3L269.0 241.2L270.5 241.1L271.9 240.9L273.3 240.8L274.8 240.6L276.2 240.4L277.6 240.2L279.1 240.0L279.2 240.0L280.5 239.7L281.9 239.2L283.3 238.7L283.5 238.6L284.3 237.2L283.5 235.8L283.3 235.7L281.9 234.6L281.8 234.4L280.5 233.7L279.4 233.0L279.1 232.9L277.6 232.2L276.2 231.6L276.2 231.6L274.8 231.1L273.3 230.6L271.9 230.3L271.8 230.3L270.5 229.9L269.0 229.6L267.6 229.4L266.2 229.2L264.8 229.1L263.3 229.0L261.9 228.9L261.6 228.9L260.5 228.8L259.0 228.7L257.6 228.7L256.2 228.7L254.8 228.7L253.3 228.7L251.9 228.7L250.5 228.8L249.0 228.8L248.4 228.9L247.6 228.9L246.2 229.0L244.8 229.0L243.3 229.1L241.9 229.2L240.5 229.3L239.0 229.4L237.6 229.5L236.2 229.7L234.7 229.8L233.3 230.0L231.9 230.1L231.0 230.3L230.5 230.3L229.0 230.6L227.6 230.9L226.2 231.3L225.1 231.6L224.7 231.9L223.6 233.0L224.1 234.4L224.7 235.0L225.6 235.8L226.2 236.2L227.6 237.1L227.8 237.2L229.0 237.8L230.5 238.5L230.7 238.6L231.9 239.1L233.3 239.6L234.6 240.0L234.7 240.0L236.2 240.4L237.6 240.8L239.0 241.0L240.5 241.2ZM204.4 238.6L204.7 238.7L206.2 238.9L207.6 239.1L209.0 239.2L210.5 239.1L211.5 238.6L210.5 238.0L209.1 237.2L209.0 237.2L207.6 237.0L206.2 237.0L204.7 237.2L204.7 237.2ZM297.9 233.0L299.1 233.3L300.5 233.7L301.9 233.8L303.3 233.8L304.8 233.4L305.2 233.0L304.8 232.8L303.3 232.0L302.6 231.6L301.9 231.5L300.5 231.5L299.1 231.4L297.6 231.5L297.0 231.6L297.6 232.5ZM226.9 224.7L227.6 224.9L229.0 225.1L230.5 225.3L231.9 225.4L233.3 225.4L234.7 225.4L236.2 225.4L237.6 225.3L239.0 225.2L240.5 225.0L241.9 224.9L243.2 224.7L241.9 224.1L240.5 223.6L239.0 223.4L237.8 223.3L237.6 223.3L236.2 223.3L236.0 223.3L234.7 223.4L233.3 223.5L231.9 223.7L230.5 223.9L229.0 224.2L227.6 224.5Z"/>
<path stroke="#3e6fff" stroke-width="1.15" d="M243.8 241.4L244.8 241.4L246.2 241.6L247.6 241.6L249.0 241.7L250.5 241.7L251.9 241.7L253.3 241.7L254.8 241.7L256.2 241.7L257.6 241.7L259.0 241.6L260.5 241.5L261.9 241.5L263.3 241.4L264.0 241.4L264.8 241.3L266.2 241.2L267.6 241.1L269.0 241.0L270.5 240.9L271.9 240.7L273.3 240.6L274.8 240.4L276.2 240.2L277.6 240.0L277.8 240.0L279.1 239.7L280.5 239.3L281.9 238.8L282.4 238.6L283.3 237.4L283.4 237.2L283.3 237.0L282.7 235.8L281.9 235.2L281.0 234.4L280.5 234.1L279.1 233.3L278.6 233.0L277.6 232.6L276.2 232.0L275.3 231.6L274.8 231.4L273.3 230.9L271.9 230.6L270.6 230.3L270.5 230.2L269.0 229.9L267.6 229.7L266.2 229.5L264.8 229.3L263.3 229.2L261.9 229.1L260.5 229.0L259.0 229.0L257.6 228.9L256.2 228.9L254.8 228.9L253.3 228.9L251.9 228.9L250.5 229.0L249.0 229.0L247.6 229.1L246.2 229.1L244.8 229.2L243.3 229.3L241.9 229.4L240.5 229.5L239.0 229.6L237.6 229.7L236.2 229.8L234.7 230.0L233.3 230.2L232.6 230.3L231.9 230.4L230.5 230.6L229.0 230.9L227.6 231.3L226.3 231.6L226.2 231.7L224.7 232.8L224.5 233.0L224.7 233.8L224.9 234.4L226.2 235.7L226.3 235.8L227.6 236.6L228.5 237.2L229.0 237.5L230.5 238.1L231.5 238.6L231.9 238.8L233.3 239.3L234.7 239.7L235.6 240.0L236.2 240.1L237.6 240.5L239.0 240.8L240.5 241.0L241.9 241.2L243.3 241.3Z"/>
<path stroke="#347afd" stroke-width="1.15" d="M246.6 241.4L247.6 241.4L249.0 241.5L250.5 241.5L251.9 241.6L253.3 241.6L254.8 241.5L256.2 241.5L257.6 241.5L259.0 241.4L260.5 241.4L260.8 241.4L261.9 241.3L263.3 241.2L264.8 241.1L266.2 241.1L267.6 240.9L269.0 240.8L270.5 240.7L271.9 240.5L273.3 240.4L274.8 240.2L276.2 240.0L276.3 240.0L277.6 239.7L279.1 239.3L280.5 238.9L281.4 238.6L281.9 238.0L282.6 237.2L282.0 235.8L281.9 235.8L280.5 234.6L280.3 234.4L279.1 233.7L277.9 233.0L277.6 232.9L276.2 232.3L274.8 231.7L274.5 231.6L273.3 231.2L271.9 230.8L270.5 230.5L269.4 230.3L269.0 230.2L267.6 229.9L266.2 229.7L264.8 229.5L263.3 229.4L261.9 229.3L260.5 229.2L259.0 229.1L257.6 229.1L256.2 229.1L254.8 229.1L253.3 229.1L251.9 229.1L250.5 229.1L249.0 229.2L247.6 229.2L246.2 229.3L244.8 229.4L243.3 229.4L241.9 229.5L240.5 229.6L239.0 229.8L237.6 229.9L236.2 230.0L234.7 230.2L234.2 230.3L233.3 230.4L231.9 230.6L230.5 230.9L229.0 231.2L227.6 231.6L227.4 231.6L226.2 232.4L225.4 233.0L225.6 234.4L226.2 234.9L227.0 235.8L227.6 236.2L229.0 237.1L229.2 237.2L230.5 237.8L231.9 238.4L232.3 238.6L233.3 239.0L234.7 239.4L236.2 239.8L236.7 240.0L237.6 240.2L239.0 240.5L240.5 240.8L241.9 240.9L243.3 241.1L244.8 241.2L246.2 241.3Z"/>
<path stroke="#2e84f8" stroke-width="1.15" d="M251.8 241.4L251.9 241.4L253.3 241.4L254.8 241.4L255.1 241.4L256.2 241.3L257.6 241.3L259.0 241.3L260.5 241.2L261.9 241.1L263.3 241.1L264.8 241.0L266.2 240.9L267.6 240.8L269.0 240.6L270.5 240.5L271.9 240.4L273.3 240.2L274.8 240.0L274.8 240.0L276.2 239.7L277.6 239.4L279.1 239.0L280.3 238.6L280.5 238.4L281.7 237.2L281.2 235.8L280.5 235.2L279.6 234.4L279.1 234.1L277.6 233.3L277.1 233.0L276.2 232.6L274.8 232.0L273.6 231.6L273.3 231.5L271.9 231.1L270.5 230.7L269.0 230.4L268.1 230.3L267.6 230.2L266.2 229.9L264.8 229.7L263.3 229.6L261.9 229.5L260.5 229.4L259.0 229.3L257.6 229.3L256.2 229.2L254.8 229.2L253.3 229.2L251.9 229.2L250.5 229.3L249.0 229.3L247.6 229.4L246.2 229.4L244.8 229.5L243.3 229.6L241.9 229.7L240.5 229.8L239.0 229.9L237.6 230.1L236.2 230.2L235.9 230.3L234.7 230.4L233.3 230.6L231.9 230.9L230.5 231.2L229.0 231.5L228.6 231.6L227.6 232.2L226.3 233.0L226.4 234.4L227.6 235.7L227.7 235.8L229.0 236.6L229.9 237.2L230.5 237.5L231.9 238.1L233.1 238.6L233.3 238.7L234.7 239.2L236.2 239.6L237.6 239.9L237.8 240.0L239.0 240.3L240.5 240.5L241.9 240.7L243.3 240.9L244.8 241.0L246.2 241.1L247.6 241.2L249.0 241.3L250.5 241.3Z"/>
<path stroke="#2c8ef2" stroke-width="1.15" d="M238.9 240.0L239.0 240.0L240.5 240.3L241.9 240.5L243.3 240.7L244.8 240.8L246.2 241.0L247.6 241.0L249.0 241.1L250.5 241.2L251.9 241.2L253.3 241.2L254.8 241.2L256.2 241.2L257.6 241.2L259.0 241.1L260.5 241.1L261.9 241.0L263.3 240.9L264.8 240.8L266.2 240.7L267.6 240.6L269.0 240.5L270.5 240.3L271.9 240.2L273.3 240.0L273.4 240.0L274.8 239.7L276.2 239.4L277.6 239.1L279.1 238.6L279.3 238.6L280.5 237.6L280.9 237.2L280.5 235.8L280.5 235.8L279.1 234.5L278.9 234.4L277.6 233.7L276.4 233.0L276.2 232.9L274.8 232.3L273.3 231.8L272.8 231.6L271.9 231.4L270.5 231.0L269.0 230.7L267.6 230.4L266.7 230.3L266.2 230.2L264.8 230.0L263.3 229.8L261.9 229.7L260.5 229.6L259.0 229.5L257.6 229.4L256.2 229.4L254.8 229.4L253.3 229.4L251.9 229.4L250.5 229.4L249.0 229.5L247.6 229.5L246.2 229.6L244.8 229.7L243.3 229.8L241.9 229.9L240.5 230.0L239.0 230.1L237.6 230.2L237.5 230.3L236.2 230.4L234.7 230.6L233.3 230.9L231.9 231.1L230.5 231.4L229.7 231.6L229.0 231.9L227.6 232.8L227.2 233.0L227.1 234.4L227.6 234.9L228.4 235.8L229.0 236.2L230.5 237.1L230.6 237.2L231.9 237.8L233.3 238.4L233.9 238.6L234.7 238.9L236.2 239.3L237.6 239.7Z"/>
<path stroke="#2797eb" stroke-width="1.15" d="M240.1 240.0L240.5 240.0L241.9 240.3L243.3 240.5L244.8 240.6L246.2 240.8L247.6 240.9L249.0 240.9L250.5 241.0L251.9 241.0L253.3 241.0L254.8 241.0L256.2 241.0L257.6 241.0L259.0 241.0L260.5 240.9L261.9 240.8L263.3 240.8L264.8 240.7L266.2 240.6L267.6 240.4L269.0 240.3L270.5 240.1L271.9 240.0L271.9 240.0L273.3 239.7L274.8 239.5L276.2 239.1L277.6 238.8L278.2 238.6L279.1 238.0L280.1 237.2L279.8 235.8L279.1 235.2L278.2 234.4L277.6 234.1L276.2 233.3L275.7 233.0L274.8 232.6L273.3 232.1L271.9 231.6L271.9 231.6L270.5 231.2L269.0 230.9L267.6 230.6L266.2 230.4L265.3 230.3L264.8 230.2L263.3 230.0L261.9 229.9L260.5 229.8L259.0 229.7L257.6 229.6L256.2 229.6L254.8 229.6L253.3 229.6L251.9 229.6L250.5 229.6L249.0 229.6L247.6 229.7L246.2 229.8L244.8 229.8L243.3 229.9L241.9 230.0L240.5 230.1L239.3 230.3L239.0 230.3L237.6 230.4L236.2 230.6L234.7 230.8L233.3 231.1L231.9 231.4L230.8 231.6L230.5 231.8L229.0 232.4L228.1 233.0L227.9 234.4L229.0 235.7L229.1 235.8L230.5 236.7L231.3 237.2L231.9 237.4L233.3 238.1L234.7 238.6L234.7 238.6L236.2 239.1L237.6 239.4L239.0 239.8Z"/>
<path stroke="#249fe5" stroke-width="1.15" d="M241.3 240.0L241.9 240.1L243.3 240.3L244.8 240.4L246.2 240.6L247.6 240.7L249.0 240.8L250.5 240.8L251.9 240.9L253.3 240.9L254.8 240.9L256.2 240.9L257.6 240.8L259.0 240.8L260.5 240.7L261.9 240.7L263.3 240.6L264.8 240.5L266.2 240.4L267.6 240.3L269.0 240.1L270.4 240.0L270.5 240.0L271.9 239.7L273.3 239.5L274.8 239.2L276.2 238.9L277.2 238.6L277.6 238.4L279.1 237.4L279.3 237.2L279.1 235.8L279.1 235.8L277.6 234.5L277.5 234.4L276.2 233.7L275.0 233.0L274.8 233.0L273.3 232.4L271.9 231.9L271.0 231.6L270.5 231.5L269.0 231.1L267.6 230.8L266.2 230.6L264.8 230.4L263.7 230.3L263.3 230.2L261.9 230.1L260.5 229.9L259.0 229.9L257.6 229.8L256.2 229.7L254.8 229.7L253.3 229.7L251.9 229.7L250.5 229.8L249.0 229.8L247.6 229.8L246.2 229.9L244.8 230.0L243.3 230.1L241.9 230.2L241.2 230.3L240.5 230.3L239.0 230.5L237.6 230.6L236.2 230.8L234.7 231.1L233.3 231.3L231.9 231.6L231.9 231.6L230.5 232.2L229.0 233.0L228.9 233.0L228.6 234.4L229.0 234.9L229.8 235.8L230.5 236.2L231.9 237.1L232.1 237.2L233.3 237.7L234.7 238.3L235.5 238.6L236.2 238.8L237.6 239.2L239.0 239.5L240.5 239.8Z"/>
<path stroke="#1ea7e1" stroke-width="1.15" d="M242.7 240.0L243.3 240.1L244.8 240.2L246.2 240.4L247.6 240.5L249.0 240.6L250.5 240.7L251.9 240.7L253.3 240.7L254.8 240.7L256.2 240.7L257.6 240.7L259.0 240.6L260.5 240.6L261.9 240.5L263.3 240.4L264.8 240.3L266.2 240.2L267.6 240.1L268.8 240.0L269.0 239.9L270.5 239.7L271.9 239.5L273.3 239.3L274.8 238.9L276.2 238.6L276.2 238.6L277.6 237.8L278.5 237.2L278.4 235.8L277.6 235.1L276.9 234.4L276.2 234.1L274.8 233.3L274.2 233.0L273.3 232.7L271.9 232.2L270.5 231.7L270.1 231.6L269.0 231.4L267.6 231.1L266.2 230.8L264.8 230.6L263.3 230.4L261.9 230.3L261.9 230.3L260.5 230.1L259.0 230.0L257.6 230.0L256.2 229.9L254.8 229.9L253.3 229.9L251.9 229.9L250.5 229.9L249.0 230.0L247.6 230.0L246.2 230.1L244.8 230.2L243.3 230.3L243.3 230.3L241.9 230.4L240.5 230.5L239.0 230.7L237.6 230.8L236.2 231.1L234.7 231.3L233.3 231.6L233.0 231.6L231.9 232.0L230.5 232.7L229.7 233.0L229.3 234.4L230.5 235.8L230.5 235.8L231.9 236.7L232.8 237.2L233.3 237.4L234.7 238.0L236.2 238.5L236.4 238.6L237.6 238.9L239.0 239.3L240.5 239.6L241.9 239.9Z"/>
<path stroke="#17aeda" stroke-width="1.15" d="M244.1 240.0L244.8 240.1L246.2 240.2L247.6 240.3L249.0 240.4L250.5 240.5L251.9 240.5L253.3 240.6L254.8 240.6L256.2 240.6L257.6 240.5L259.0 240.5L260.5 240.4L261.9 240.4L263.3 240.3L264.8 240.2L266.2 240.1L267.1 240.0L267.6 239.9L269.0 239.7L270.5 239.5L271.9 239.3L273.3 239.0L274.8 238.7L275.2 238.6L276.2 238.1L277.6 237.2L277.6 237.2L277.6 235.8L277.6 235.8L276.2 234.4L276.2 234.4L274.8 233.7L273.5 233.0L273.3 233.0L271.9 232.4L270.5 232.0L269.2 231.6L269.0 231.6L267.6 231.3L266.2 231.0L264.8 230.8L263.3 230.6L261.9 230.4L260.5 230.3L259.7 230.3L259.0 230.2L257.6 230.1L256.2 230.1L254.8 230.1L253.3 230.0L251.9 230.0L250.5 230.1L249.0 230.1L247.6 230.2L246.2 230.2L245.8 230.3L244.8 230.3L243.3 230.4L241.9 230.5L240.5 230.7L239.0 230.9L237.6 231.0L236.2 231.3L234.7 231.5L234.1 231.6L233.3 231.9L231.9 232.4L230.6 233.0L230.5 233.3L230.1 234.4L230.5 234.9L231.1 235.8L231.9 236.3L233.3 237.1L233.5 237.2L234.7 237.7L236.2 238.2L237.2 238.6L237.6 238.7L239.0 239.1L240.5 239.4L241.9 239.6L243.3 239.9Z"/>
<path stroke="#08b5d0" stroke-width="1.15" d="M245.7 240.0L246.2 240.0L247.6 240.1L249.0 240.2L250.5 240.3L251.9 240.4L253.3 240.4L254.8 240.4L256.2 240.4L257.6 240.4L259.0 240.3L260.5 240.3L261.9 240.2L263.3 240.1L264.8 240.0L265.2 240.0L266.2 239.9L267.6 239.7L269.0 239.5L270.5 239.3L271.9 239.1L273.3 238.8L274.1 238.6L274.8 238.3L276.2 237.6L276.8 237.2L276.9 235.8L276.2 235.1L275.5 234.4L274.8 234.0L273.3 233.3L272.8 233.0L271.9 232.7L270.5 232.3L269.0 231.8L268.2 231.6L267.6 231.5L266.2 231.2L264.8 231.0L263.3 230.8L261.9 230.6L260.5 230.5L259.0 230.4L257.6 230.3L256.3 230.3L256.2 230.3L254.8 230.2L253.3 230.2L251.9 230.2L250.5 230.2L249.4 230.3L249.0 230.3L247.6 230.3L246.2 230.4L244.8 230.5L243.3 230.6L241.9 230.7L240.5 230.9L239.0 231.0L237.6 231.2L236.2 231.5L235.2 231.6L234.7 231.8L233.3 232.2L231.9 232.8L231.4 233.0L230.8 234.4L231.8 235.8L231.9 235.8L233.3 236.7L234.2 237.2L234.7 237.4L236.2 238.0L237.6 238.4L238.1 238.6L239.0 238.8L240.5 239.2L241.9 239.4L243.3 239.7L244.8 239.9Z"/>
<path stroke="#02bac5" stroke-width="1.15" d="M247.6 240.0L249.0 240.1L250.5 240.2L251.9 240.2L253.3 240.2L254.8 240.2L256.2 240.2L257.6 240.2L259.0 240.2L260.5 240.1L261.9 240.0L263.0 240.0L263.3 239.9L264.8 239.8L266.2 239.7L267.6 239.5L269.0 239.3L270.5 239.1L271.9 238.8L273.1 238.6L273.3 238.5L274.8 237.9L276.0 237.2L276.2 236.0L276.2 235.8L276.2 235.8L274.8 234.4L274.8 234.4L273.3 233.7L272.0 233.0L271.9 233.0L270.5 232.5L269.0 232.1L267.6 231.7L267.3 231.6L266.2 231.4L264.8 231.2L263.3 231.0L261.9 230.8L260.5 230.7L259.0 230.6L257.6 230.5L256.2 230.4L254.8 230.4L253.3 230.4L251.9 230.4L250.5 230.4L249.0 230.4L247.6 230.5L246.2 230.6L244.8 230.7L243.3 230.8L241.9 230.9L240.5 231.0L239.0 231.2L237.6 231.4L236.4 231.6L236.2 231.7L234.7 232.1L233.3 232.6L232.3 233.0L231.9 233.7L231.5 234.4L231.9 234.9L232.5 235.8L233.3 236.3L234.7 237.1L234.9 237.2L236.2 237.7L237.6 238.2L239.0 238.6L239.0 238.6L240.5 238.9L241.9 239.2L243.3 239.5L244.8 239.7L246.2 239.8L247.6 240.0Z"/>
<path stroke="#12beb9" stroke-width="1.15" d="M250.2 240.0L250.5 240.0L251.9 240.0L253.3 240.1L254.8 240.1L256.2 240.1L257.6 240.1L259.0 240.0L260.2 240.0L260.5 240.0L261.9 239.9L263.3 239.8L264.8 239.6L266.2 239.5L267.6 239.3L269.0 239.1L270.5 238.9L271.9 238.6L272.1 238.6L273.3 238.1L274.8 237.4L275.2 237.2L275.5 235.8L274.8 235.1L274.1 234.4L273.3 234.0L271.9 233.3L271.3 233.0L270.5 232.8L269.0 232.3L267.6 232.0L266.2 231.6L266.2 231.6L264.8 231.4L263.3 231.2L261.9 231.0L260.5 230.8L259.0 230.7L257.6 230.6L256.2 230.6L254.8 230.5L253.3 230.5L251.9 230.5L250.5 230.5L249.0 230.6L247.6 230.6L246.2 230.7L244.8 230.8L243.3 230.9L241.9 231.1L240.5 231.2L239.0 231.4L237.6 231.6L237.6 231.6L236.2 232.0L234.7 232.4L233.3 232.9L233.1 233.0L232.2 234.4L233.2 235.8L233.3 235.9L234.7 236.7L235.6 237.2L236.2 237.4L237.6 237.9L239.0 238.3L239.9 238.6L240.5 238.7L241.9 239.0L243.3 239.3L244.8 239.5L246.2 239.7L247.6 239.8L249.0 239.9Z"/>
<path stroke="#26c2ad" stroke-width="1.15" d="M240.8 238.6L241.9 238.8L243.3 239.1L244.8 239.3L246.2 239.5L247.6 239.6L249.0 239.7L250.5 239.8L251.9 239.9L253.3 239.9L254.8 239.9L256.2 239.9L257.6 239.9L259.0 239.9L260.5 239.8L261.9 239.7L263.3 239.6L264.8 239.5L266.2 239.3L267.6 239.1L269.0 238.9L270.5 238.7L271.0 238.6L271.9 238.3L273.3 237.7L274.4 237.2L274.8 236.0L274.8 235.8L274.8 235.8L273.4 234.4L273.3 234.4L271.9 233.7L270.5 233.0L270.5 233.0L269.0 232.6L267.6 232.2L266.2 231.9L265.1 231.6L264.8 231.6L263.3 231.4L261.9 231.2L260.5 231.0L259.0 230.9L257.6 230.8L256.2 230.7L254.8 230.7L253.3 230.7L251.9 230.7L250.5 230.7L249.0 230.8L247.6 230.8L246.2 230.9L244.8 231.0L243.3 231.1L241.9 231.2L240.5 231.4L239.0 231.6L238.8 231.6L237.6 231.9L236.2 232.3L234.7 232.7L234.0 233.0L233.3 233.8L232.9 234.4L233.3 235.0L233.9 235.8L234.7 236.3L236.2 237.1L236.4 237.2L237.6 237.6L239.0 238.1L240.5 238.5Z"/>
<path stroke="#31c69f" stroke-width="1.15" d="M241.8 238.6L241.9 238.6L243.3 238.9L244.8 239.1L246.2 239.3L247.6 239.4L249.0 239.5L250.5 239.6L251.9 239.7L253.3 239.7L254.8 239.8L256.2 239.8L257.6 239.7L259.0 239.7L260.5 239.6L261.9 239.5L263.3 239.4L264.8 239.3L266.2 239.1L267.6 238.9L269.0 238.7L269.8 238.6L270.5 238.4L271.9 237.9L273.3 237.3L273.6 237.2L274.1 235.8L273.3 235.0L272.7 234.4L271.9 234.0L270.5 233.4L269.7 233.0L269.0 232.8L267.6 232.4L266.2 232.1L264.8 231.8L264.0 231.6L263.3 231.5L261.9 231.4L260.5 231.2L259.0 231.1L257.6 231.0L256.2 230.9L254.8 230.9L253.3 230.8L251.9 230.8L250.5 230.9L249.0 230.9L247.6 231.0L246.2 231.1L244.8 231.2L243.3 231.3L241.9 231.4L240.5 231.6L240.1 231.6L239.0 231.9L237.6 232.2L236.2 232.6L234.8 233.0L234.7 233.1L233.7 234.4L234.6 235.8L234.7 235.9L236.2 236.7L237.1 237.2L237.6 237.4L239.0 237.8L240.5 238.2Z"/>
<path stroke="#3dc990" stroke-width="1.15" d="M242.8 238.6L243.3 238.7L244.8 238.9L246.2 239.1L247.6 239.3L249.0 239.4L250.5 239.5L251.9 239.5L253.3 239.6L254.8 239.6L256.2 239.6L257.6 239.6L259.0 239.5L260.5 239.4L261.9 239.4L263.3 239.2L264.8 239.1L266.2 238.9L267.6 238.7L268.7 238.6L269.0 238.5L270.5 238.1L271.9 237.6L272.8 237.2L273.3 236.0L273.4 235.8L273.3 235.7L272.0 234.4L271.9 234.4L270.5 233.7L269.0 233.1L268.9 233.0L267.6 232.7L266.2 232.3L264.8 232.0L263.3 231.7L262.7 231.6L261.9 231.5L260.5 231.4L259.0 231.2L257.6 231.1L256.2 231.1L254.8 231.0L253.3 231.0L251.9 231.0L250.5 231.0L249.0 231.1L247.6 231.1L246.2 231.2L244.8 231.3L243.3 231.4L241.9 231.6L241.5 231.6L240.5 231.8L239.0 232.1L237.6 232.5L236.2 232.9L235.7 233.0L234.7 234.0L234.4 234.4L234.7 235.0L235.3 235.8L236.2 236.3L237.6 237.1L237.9 237.2L239.0 237.6L240.5 238.0L241.9 238.4Z"/>
<path stroke="#50cc7f" stroke-width="1.15" d="M243.9 238.6L244.8 238.7L246.2 238.9L247.6 239.1L249.0 239.2L250.5 239.3L251.9 239.4L253.3 239.4L254.8 239.4L256.2 239.4L257.6 239.4L259.0 239.3L260.5 239.3L261.9 239.2L263.3 239.1L264.8 238.9L266.2 238.8L267.4 238.6L267.6 238.5L269.0 238.2L270.5 237.7L271.9 237.2L271.9 237.2L272.7 235.8L271.9 235.0L271.3 234.4L270.5 234.0L269.0 233.4L268.1 233.0L267.6 232.9L266.2 232.5L264.8 232.2L263.3 232.0L261.9 231.7L261.3 231.6L260.5 231.6L259.0 231.4L257.6 231.3L256.2 231.2L254.8 231.2L253.3 231.2L251.9 231.2L250.5 231.2L249.0 231.2L247.6 231.3L246.2 231.4L244.8 231.5L243.3 231.6L243.1 231.6L241.9 231.8L240.5 232.1L239.0 232.4L237.6 232.7L236.6 233.0L236.2 233.4L235.1 234.4L236.0 235.8L236.2 235.9L237.6 236.7L238.6 237.2L239.0 237.3L240.5 237.8L241.9 238.1L243.3 238.5Z"/>
<path stroke="#67cd6c" stroke-width="1.15" d="M245.1 238.6L246.2 238.7L247.6 238.9L249.0 239.0L250.5 239.1L251.9 239.2L253.3 239.2L254.8 239.3L256.2 239.3L257.6 239.2L259.0 239.2L260.5 239.1L261.9 239.0L263.3 238.9L264.8 238.7L266.1 238.6L266.2 238.6L267.6 238.3L269.0 237.9L270.5 237.4L271.1 237.2L271.9 235.9L271.9 235.8L271.9 235.8L270.6 234.4L270.5 234.4L269.0 233.7L267.6 233.2L267.3 233.0L266.2 232.8L264.8 232.4L263.3 232.2L261.9 231.9L260.5 231.7L259.6 231.6L259.0 231.6L257.6 231.5L256.2 231.4L254.8 231.4L253.3 231.3L251.9 231.3L250.5 231.3L249.0 231.4L247.6 231.5L246.2 231.5L244.9 231.6L244.8 231.7L243.3 231.8L241.9 232.1L240.5 232.3L239.0 232.6L237.6 233.0L237.5 233.0L236.2 234.1L235.9 234.4L236.2 234.9L236.7 235.8L237.6 236.3L239.0 237.0L239.4 237.2L240.5 237.5L241.9 237.9L243.3 238.2L244.8 238.5Z"/>
<path stroke="#81cc59" stroke-width="1.15" d="M246.5 238.6L247.6 238.7L249.0 238.9L250.5 239.0L251.9 239.0L253.3 239.1L254.8 239.1L256.2 239.1L257.6 239.1L259.0 239.0L260.5 238.9L261.9 238.8L263.3 238.7L264.6 238.6L264.8 238.6L266.2 238.3L267.6 238.0L269.0 237.6L270.2 237.2L270.5 236.8L271.2 235.8L270.5 235.1L269.9 234.4L269.0 234.1L267.6 233.5L266.4 233.0L266.2 233.0L264.8 232.7L263.3 232.4L261.9 232.1L260.5 231.9L259.0 231.8L257.6 231.7L257.5 231.6L256.2 231.6L254.8 231.5L253.3 231.5L251.9 231.5L250.5 231.5L249.0 231.6L247.6 231.6L247.3 231.6L246.2 231.7L244.8 231.9L243.3 232.1L241.9 232.3L240.5 232.6L239.0 232.9L238.5 233.0L237.6 233.6L236.7 234.4L237.4 235.8L237.6 235.9L239.0 236.6L240.2 237.2L240.5 237.3L241.9 237.7L243.3 238.0L244.8 238.3L246.2 238.5Z"/>
<path stroke="#9ac945" stroke-width="1.15" d="M248.1 238.6L249.0 238.7L250.5 238.8L251.9 238.9L253.3 238.9L254.8 238.9L256.2 238.9L257.6 238.9L259.0 238.8L260.5 238.8L261.9 238.7L262.9 238.6L263.3 238.5L264.8 238.3L266.2 238.0L267.6 237.7L269.0 237.3L269.3 237.2L270.4 235.8L269.1 234.4L269.0 234.4L267.6 233.8L266.2 233.3L265.4 233.0L264.8 232.9L263.3 232.6L261.9 232.3L260.5 232.1L259.0 232.0L257.6 231.8L256.2 231.8L254.8 231.7L253.3 231.7L251.9 231.6L250.5 231.7L249.0 231.7L247.6 231.8L246.2 231.9L244.8 232.1L243.3 232.3L241.9 232.5L240.5 232.8L239.5 233.0L239.0 233.3L237.6 234.3L237.4 234.4L237.6 234.7L238.2 235.8L239.0 236.2L240.5 236.9L241.1 237.2L241.9 237.4L243.3 237.8L244.8 238.1L246.2 238.3L247.6 238.5Z"/>
<path stroke="#b2c635" stroke-width="1.15" d="M250.1 238.6L250.5 238.6L251.9 238.7L253.3 238.7L254.8 238.8L256.2 238.8L257.6 238.7L259.0 238.7L260.5 238.6L260.7 238.6L261.9 238.5L263.3 238.3L264.8 238.0L266.2 237.8L267.6 237.4L268.3 237.2L269.0 236.5L269.6 235.8L269.0 235.2L268.3 234.4L267.6 234.1L266.2 233.6L264.8 233.1L264.5 233.0L263.3 232.8L261.9 232.6L260.5 232.3L259.0 232.2L257.6 232.0L256.2 231.9L254.8 231.9L253.3 231.8L251.9 231.8L250.5 231.9L249.0 231.9L247.6 232.0L246.2 232.1L244.8 232.3L243.3 232.5L241.9 232.8L240.5 233.0L240.5 233.1L239.0 233.9L238.2 234.4L238.9 235.8L239.0 235.9L240.5 236.5L241.9 237.2L242.0 237.2L243.3 237.5L244.8 237.8L246.2 238.1L247.6 238.3L249.0 238.5Z"/>
<path stroke="#c8c129" stroke-width="1.15" d="M253.6 238.6L254.8 238.6L256.2 238.6L256.9 238.6L257.6 238.6L259.0 238.5L260.5 238.4L261.9 238.2L263.3 238.0L264.8 237.8L266.2 237.5L267.3 237.2L267.6 237.0L268.8 235.8L267.6 234.5L267.5 234.4L266.2 233.9L264.8 233.4L263.4 233.0L263.3 233.0L261.9 232.8L260.5 232.5L259.0 232.4L257.6 232.2L256.2 232.1L254.8 232.1L253.3 232.0L251.9 232.0L250.5 232.1L249.0 232.1L247.6 232.2L246.2 232.4L244.8 232.5L243.3 232.7L241.9 233.0L241.7 233.0L240.5 233.6L239.1 234.4L239.7 235.8L240.5 236.2L241.9 236.8L242.9 237.2L243.3 237.3L244.8 237.6L246.2 237.9L247.6 238.1L249.0 238.3L250.5 238.4L251.9 238.5L253.3 238.6Z"/>
<path stroke="#dcbd29" stroke-width="1.15" d="M243.9 237.2L244.8 237.4L246.2 237.6L247.6 237.9L249.0 238.0L250.5 238.2L251.9 238.3L253.3 238.4L254.8 238.4L256.2 238.4L257.6 238.3L259.0 238.3L260.5 238.1L261.9 238.0L263.3 237.8L264.8 237.5L266.2 237.2L266.3 237.2L267.6 236.2L268.0 235.8L267.6 235.4L266.7 234.4L266.2 234.2L264.8 233.7L263.3 233.3L262.3 233.0L261.9 233.0L260.5 232.8L259.0 232.6L257.6 232.4L256.2 232.3L254.8 232.3L253.3 232.2L251.9 232.2L250.5 232.3L249.0 232.3L247.6 232.4L246.2 232.6L244.8 232.7L243.3 233.0L242.9 233.0L241.9 233.4L240.5 234.1L239.9 234.4L240.5 235.7L240.5 235.8L241.9 236.4L243.3 237.0Z"/>
<path stroke="#edba33" stroke-width="1.15" d="M245.0 237.2L246.2 237.4L247.6 237.6L249.0 237.8L250.5 238.0L251.9 238.1L253.3 238.1L254.8 238.2L256.2 238.2L257.6 238.1L259.0 238.0L260.5 237.9L261.9 237.8L263.3 237.5L264.8 237.3L265.1 237.2L266.2 236.5L267.1 235.8L266.2 234.8L265.8 234.4L264.8 234.1L263.3 233.6L261.9 233.2L261.0 233.0L260.5 233.0L259.0 232.8L257.6 232.6L256.2 232.5L254.8 232.5L253.3 232.4L251.9 232.4L250.5 232.5L249.0 232.5L247.6 232.6L246.2 232.8L244.8 233.0L244.2 233.0L243.3 233.3L241.9 233.9L240.8 234.4L241.4 235.8L241.9 236.0L243.3 236.6L244.8 237.1Z"/>
<path stroke="#fbbc3d" stroke-width="1.15" d="M246.1 237.2L246.2 237.2L247.6 237.4L249.0 237.6L250.5 237.8L251.9 237.9L253.3 237.9L254.8 238.0L256.2 237.9L257.6 237.9L259.0 237.8L260.5 237.7L261.9 237.5L263.3 237.3L263.9 237.2L264.8 236.8L266.2 235.8L266.2 235.8L266.2 235.8L264.9 234.4L264.8 234.4L263.3 233.9L261.9 233.6L260.5 233.2L259.5 233.0L259.0 233.0L257.6 232.8L256.2 232.7L254.8 232.7L253.3 232.6L251.9 232.6L250.5 232.7L249.0 232.7L247.6 232.8L246.2 233.0L245.8 233.0L244.8 233.3L243.3 233.8L241.9 234.4L241.8 234.4L241.9 234.7L242.3 235.8L243.3 236.2L244.8 236.7Z"/>
<path stroke="#fec537" stroke-width="1.15" d="M247.5 237.2L247.6 237.2L249.0 237.4L250.5 237.5L251.9 237.6L253.3 237.7L254.8 237.7L256.2 237.7L257.6 237.7L259.0 237.6L260.5 237.5L261.9 237.3L262.4 237.2L263.3 236.9L264.8 236.1L265.2 235.8L264.8 235.3L263.9 234.4L263.3 234.3L261.9 233.9L260.5 233.5L259.0 233.3L257.6 233.0L257.6 233.0L256.2 232.9L254.8 232.9L253.3 232.8L251.9 232.8L250.5 232.9L249.0 232.9L247.8 233.0L247.6 233.1L246.2 233.3L244.8 233.7L243.3 234.2L242.8 234.4L243.2 235.8L243.3 235.8L244.8 236.4L246.2 236.8Z"/>
<path stroke="#fccf30" stroke-width="1.15" d="M249.2 237.2L250.5 237.3L251.9 237.4L253.3 237.5L254.8 237.5L256.2 237.5L257.6 237.5L259.0 237.4L260.5 237.2L260.7 237.2L261.9 236.8L263.3 236.3L264.2 235.8L263.3 235.0L262.8 234.4L261.9 234.2L260.5 233.8L259.0 233.6L257.6 233.3L256.2 233.2L254.8 233.1L253.8 233.0L253.3 233.0L251.9 233.0L251.7 233.0L250.5 233.1L249.0 233.2L247.6 233.4L246.2 233.7L244.8 234.1L243.9 234.4L244.3 235.8L244.8 236.0L246.2 236.4L247.6 236.8L249.0 237.2Z"/>
<path stroke="#f7db2b" stroke-width="1.15" d="M251.6 237.2L251.9 237.2L253.3 237.3L254.8 237.3L256.2 237.3L257.6 237.2L258.2 237.2L259.0 237.1L260.5 236.8L261.9 236.3L263.0 235.8L261.9 234.7L261.6 234.4L260.5 234.2L259.0 233.9L257.6 233.7L256.2 233.5L254.8 233.4L253.3 233.3L251.9 233.4L250.5 233.4L249.0 233.6L247.6 233.8L246.2 234.1L245.1 234.4L245.4 235.8L246.2 236.1L247.6 236.4L249.0 236.8L250.5 237.0Z"/>
<path stroke="#f5e626" stroke-width="1.15" d="M246.7 235.8L247.6 236.1L249.0 236.4L250.5 236.6L251.9 236.8L253.3 237.0L254.8 237.0L256.2 236.9L257.6 236.8L259.0 236.6L260.5 236.2L261.8 235.8L260.5 234.7L260.2 234.4L259.0 234.2L257.6 234.0L256.2 233.8L254.8 233.7L253.3 233.7L251.9 233.7L250.5 233.8L249.0 233.9L247.6 234.2L246.6 234.4Z"/>
<path stroke="#f6f01f" stroke-width="1.15" d="M248.2 235.8L249.0 236.0L250.5 236.2L251.9 236.4L253.3 236.5L254.8 236.6L256.2 236.5L257.6 236.4L259.0 236.1L260.2 235.8L259.0 234.9L258.4 234.4L257.6 234.3L256.2 234.1L254.8 234.0L253.3 234.0L251.9 234.0L250.5 234.1L249.0 234.3L248.3 234.4Z"/>
<path stroke="#f9fb15" stroke-width="1.15" d="M250.2 235.8L250.5 235.8L251.9 236.0L253.3 236.1L254.8 236.1L256.2 236.1L257.6 235.9L258.1 235.8L257.6 235.5L256.2 234.7L255.6 234.4L254.8 234.4L253.3 234.3L251.9 234.4L251.3 234.4L250.5 235.3Z"/>
</g>
<path d="M116.13 468.90v-4.50M116.13 26.30v4.50M46.10 400.91h4.50M502.00 400.91h-4.50M187.59 468.90v-4.50M187.59 26.30v4.50M46.10 331.54h4.50M502.00 331.54h-4.50M259.04 468.90v-4.50M259.04 26.30v4.50M46.10 262.17h4.50M502.00 262.17h-4.50M330.50 468.90v-4.50M330.50 26.30v4.50M46.10 192.80h4.50M502.00 192.80h-4.50M401.96 468.90v-4.50M401.96 26.30v4.50M46.10 123.42h4.50M502.00 123.42h-4.50M473.42 468.90v-4.50M473.42 26.30v4.50M46.10 54.05h4.50M502.00 54.05h-4.50" stroke="#262626" stroke-width="1" fill="none"/>
<rect x="46.10" y="26.30" width="455.90" height="442.60" fill="none" stroke="#262626" stroke-width="1.1"/>
<defs><linearGradient id="pg" x1="0" y1="1" x2="0" y2="0"><stop offset="0.0000" stop-color="#3e26a8"/><stop offset="0.0159" stop-color="#402ab4"/><stop offset="0.0317" stop-color="#422ec0"/><stop offset="0.0476" stop-color="#4332cb"/><stop offset="0.0635" stop-color="#4537d5"/><stop offset="0.0794" stop-color="#463cde"/><stop offset="0.0952" stop-color="#4741e5"/><stop offset="0.1111" stop-color="#4747eb"/><stop offset="0.1270" stop-color="#484df0"/><stop offset="0.1429" stop-color="#4852f4"/><stop offset="0.1587" stop-color="#4758f8"/><stop offset="0.1746" stop-color="#465efb"/><stop offset="0.1905" stop-color="#4563fd"/><stop offset="0.2063" stop-color="#4269fe"/><stop offset="0.2222" stop-color="#3e6fff"/><stop offset="0.2381" stop-color="#3875fe"/><stop offset="0.2540" stop-color="#327cfc"/><stop offset="0.2698" stop-color="#2f81fa"/><stop offset="0.2857" stop-color="#2e87f7"/><stop offset="0.3016" stop-color="#2d8cf3"/><stop offset="0.3175" stop-color="#2b91ef"/><stop offset="0.3333" stop-color="#2797eb"/><stop offset="0.3492" stop-color="#259be8"/><stop offset="0.3651" stop-color="#23a0e5"/><stop offset="0.3810" stop-color="#20a5e3"/><stop offset="0.3968" stop-color="#1ca9df"/><stop offset="0.4127" stop-color="#18addb"/><stop offset="0.4286" stop-color="#12b1d6"/><stop offset="0.4444" stop-color="#08b5d0"/><stop offset="0.4603" stop-color="#01b8ca"/><stop offset="0.4762" stop-color="#02bac3"/><stop offset="0.4921" stop-color="#0bbdbd"/><stop offset="0.5079" stop-color="#19bfb6"/><stop offset="0.5238" stop-color="#24c1ae"/><stop offset="0.5397" stop-color="#2cc4a7"/><stop offset="0.5556" stop-color="#31c69f"/><stop offset="0.5714" stop-color="#37c897"/><stop offset="0.5873" stop-color="#3fca8e"/><stop offset="0.6032" stop-color="#4acb84"/><stop offset="0.6190" stop-color="#57cc7a"/><stop offset="0.6349" stop-color="#64cd6f"/><stop offset="0.6508" stop-color="#72cd64"/><stop offset="0.6667" stop-color="#81cc59"/><stop offset="0.6825" stop-color="#8fcb4e"/><stop offset="0.6984" stop-color="#9dc943"/><stop offset="0.7143" stop-color="#abc739"/><stop offset="0.7302" stop-color="#b9c431"/><stop offset="0.7460" stop-color="#c5c22a"/><stop offset="0.7619" stop-color="#d1bf27"/><stop offset="0.7778" stop-color="#dcbd29"/><stop offset="0.7937" stop-color="#e6bb2d"/><stop offset="0.8095" stop-color="#f0ba36"/><stop offset="0.8254" stop-color="#f8ba3d"/><stop offset="0.8413" stop-color="#febe3c"/><stop offset="0.8571" stop-color="#fec338"/><stop offset="0.8730" stop-color="#fec934"/><stop offset="0.8889" stop-color="#fccf30"/><stop offset="0.9048" stop-color="#fad62d"/><stop offset="0.9206" stop-color="#f7dc2a"/><stop offset="0.9365" stop-color="#f5e327"/><stop offset="0.9524" stop-color="#f5e924"/><stop offset="0.9683" stop-color="#f6ef20"/><stop offset="0.9841" stop-color="#f7f51b"/><stop offset="1.0000" stop-color="#f9fb15"/></linearGradient></defs>
<rect x="509.40" y="26.30" width="16.50" height="442.60" fill="url(#pg)" stroke="#262626" stroke-width="0.6"/>
<path d="M525.90 389.59h-4.60M525.90 297.98h-4.60M525.90 206.38h-4.60M525.90 114.77h-4.60" stroke="#262626" stroke-width="1" fill="none"/>
<g font-family="Liberation Sans, Arial, sans-serif" fill="#000" stroke="#000" stroke-width="0.25" font-size="10px">
<text x="116.13" y="483.30" text-anchor="middle">50</text>
<text x="42.00" y="405.21" text-anchor="end">50</text>
<text x="187.59" y="483.30" text-anchor="middle">100</text>
<text x="42.00" y="335.84" text-anchor="end">100</text>
<text x="259.04" y="483.30" text-anchor="middle">150</text>
<text x="42.00" y="266.47" text-anchor="end">150</text>
<text x="330.50" y="483.30" text-anchor="middle">200</text>
<text x="42.00" y="197.10" text-anchor="end">200</text>
<text x="401.96" y="483.30" text-anchor="middle">250</text>
<text x="42.00" y="127.72" text-anchor="end">250</text>
<text x="473.42" y="483.30" text-anchor="middle">300</text>
<text x="42.00" y="58.35" text-anchor="end">300</text>
<text x="529.30" y="393.49" font-size="10px">50</text>
<text x="529.30" y="301.88" font-size="10px">100</text>
<text x="529.30" y="210.28" font-size="10px">150</text>
<text x="529.30" y="118.67" font-size="10px">200</text>
<text x="273.7" y="498.3" text-anchor="middle" font-size="11px">Range/m</text>
<text transform="translate(19 248) rotate(-90)" text-anchor="middle" font-size="11px">Azimuth/m</text>
<text x="274.5" y="21.7" text-anchor="middle" font-size="11px">Focus result</text>
</g>
</svg>
</body></html>
